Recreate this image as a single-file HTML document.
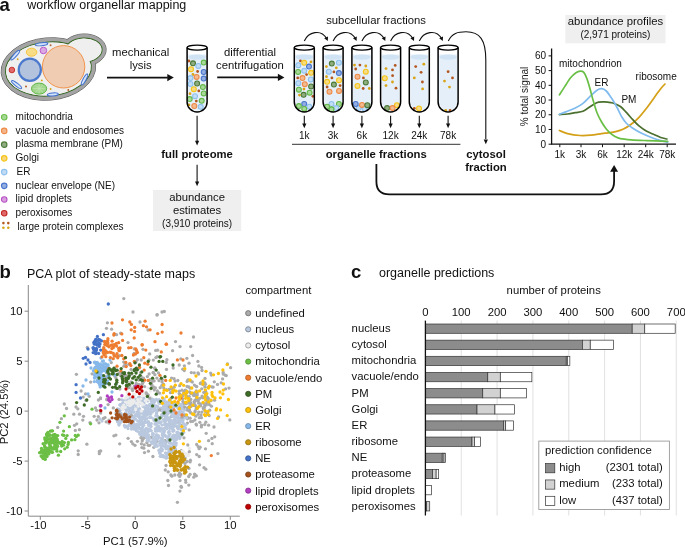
<!DOCTYPE html>
<html><head><meta charset="utf-8"><title>Organellar mapping workflow</title>
<style>html,body{margin:0;padding:0;background:#fff;} body{width:685px;height:548px;overflow:hidden;} svg{display:block;}</style>
</head><body>
<svg width="685" height="548" viewBox="0 0 685 548" font-family='"Liberation Sans", Arial, Helvetica, sans-serif'>
<rect width="685" height="548" fill="#fff"/>
<text x="-0.5" y="10.5" font-size="18.5" font-weight="bold" fill="#111">a</text>
<text x="27.2" y="9.3" font-size="12.5" fill="#111">workflow organellar mapping</text>
<g><ellipse transform="translate(48.4,69.0) rotate(-5)" cx="0" cy="0" rx="47.4" ry="31.2" fill="#a4a4a4" stroke="#5a5a5a" stroke-width="0.8"/>
<ellipse transform="translate(83.6,50.2) rotate(-3)" rx="22.599999999999998" ry="16.3" fill="#a4a4a4" stroke="#5a5a5a" stroke-width="0.8"/>
<ellipse transform="translate(48.4,69.0) rotate(-5)" cx="0" cy="0" rx="47.0" ry="30.8" fill="#a4a4a4"/>
<ellipse transform="translate(83.6,50.2) rotate(-3)" rx="22.2" ry="15.899999999999999" fill="#a4a4a4"/>
<ellipse transform="translate(48.4,69.0) rotate(-5)" cx="0" cy="0" rx="43.0" ry="26.9" fill="#efefef" stroke="#3a6a27" stroke-width="1.15"/>
<ellipse transform="translate(83.6,50.2) rotate(-3)" rx="18.4" ry="12.1" fill="#efefef" stroke="#3a6a27" stroke-width="1.15"/>
<ellipse transform="translate(48.4,69.0) rotate(-5)" cx="0" cy="0" rx="42.5" ry="26.4" fill="#efefef"/>
<ellipse transform="translate(83.6,50.2) rotate(-3)" rx="17.95" ry="11.65" fill="#efefef"/>
</g>
<ellipse transform="translate(41.6,44.2) rotate(-6)" rx="6.2" ry="1.5" fill="#d3e3fa" stroke="#4270d0" stroke-width="1.0"/>
<ellipse transform="translate(15.2,55.2) rotate(-48)" rx="6.3" ry="1.5" fill="#d3e3fa" stroke="#4270d0" stroke-width="1.0"/>
<ellipse transform="translate(16.6,84.6) rotate(38)" rx="6.3" ry="1.5" fill="#d3e3fa" stroke="#4270d0" stroke-width="1.0"/>
<ellipse transform="translate(52.8,94.4) rotate(-5)" rx="5.5" ry="1.5" fill="#d3e3fa" stroke="#4270d0" stroke-width="1.0"/>
<ellipse transform="translate(84.5,79.5) rotate(-62)" rx="6.2" ry="1.5" fill="#d3e3fa" stroke="#4270d0" stroke-width="1.0"/>
<circle cx="63.6" cy="66.8" r="21.2" fill="#f0cdb2" stroke="#f08a3c" stroke-width="0.9"/>
<circle cx="29.8" cy="69.8" r="11.1" fill="#b3c3dd" stroke="#4a78cd" stroke-width="2.2"/>
<ellipse cx="31.6" cy="52.2" rx="5.3" ry="4.0" fill="#f8dc86" stroke="#f5c230" stroke-width="0.9"/>
<circle cx="43.4" cy="50.5" r="3.3" fill="#dba7e2" stroke="#b64fc5" stroke-width="0.9"/>
<circle cx="11.9" cy="70" r="2.8" fill="#e26a6a" stroke="#c42525" stroke-width="0.9"/>
<ellipse cx="39.1" cy="88.6" rx="7.6" ry="5.5" fill="#a2d68e" stroke="#5db542" stroke-width="1.0"/>
<path d="M33.5,88.6 L44.7,88.6 M35.5,85.2 L42.7,92 M42.7,85.2 L35.5,92 M39.1,83.8 L39.1,93.4" stroke="#c4e7b6" stroke-width="0.7" fill="none"/>
<circle cx="50.6" cy="45.3" r="0.95" fill="#b4642a"/>
<circle cx="17.7" cy="59.2" r="0.95" fill="#d9a316"/>
<circle cx="41.8" cy="80.4" r="0.95" fill="#d9a316"/>
<circle cx="26" cy="86.5" r="0.95" fill="#b4571f"/>
<circle cx="50.6" cy="89" r="0.95" fill="#d9a316"/>
<circle cx="68.3" cy="90" r="0.95" fill="#b4571f"/>
<circle cx="4.2" cy="117.20" r="2.75" fill="#a5d894" stroke="#6cc04a" stroke-width="1.15"/>
<text x="15.6" y="120.00" font-size="10" fill="#111">mitochondria</text>
<circle cx="4.2" cy="130.92" r="2.75" fill="#f3b68c" stroke="#ee8a45" stroke-width="1.15"/>
<text x="15.6" y="133.72" font-size="10" fill="#111">vacuole and endosomes</text>
<circle cx="4.2" cy="144.64" r="2.75" fill="#8fab82" stroke="#4e7c3a" stroke-width="1.15"/>
<text x="15.6" y="147.44" font-size="10" fill="#111">plasma membrane (PM)</text>
<circle cx="4.2" cy="158.36" r="2.75" fill="#f7d77a" stroke="#f6c416" stroke-width="1.15"/>
<text x="15.6" y="161.16" font-size="10" fill="#111">Golgi</text>
<circle cx="4.2" cy="172.08" r="2.75" fill="#c0dcf5" stroke="#8ec1ee" stroke-width="1.15"/>
<text x="16.6" y="174.88" font-size="10" fill="#111">ER</text>
<circle cx="4.2" cy="185.80" r="2.75" fill="#93aee2" stroke="#4a76cc" stroke-width="1.15"/>
<text x="15.6" y="188.60" font-size="10" fill="#111">nuclear envelope (NE)</text>
<circle cx="4.2" cy="199.52" r="2.75" fill="#d9a0e0" stroke="#b64fc5" stroke-width="1.15"/>
<text x="15.6" y="202.32" font-size="10" fill="#111">lipid droplets</text>
<circle cx="4.2" cy="213.24" r="2.75" fill="#e06a6a" stroke="#c42525" stroke-width="1.15"/>
<text x="15.6" y="216.04" font-size="10" fill="#111">peroxisomes</text>
<circle cx="3.4" cy="223.10" r="1.3" fill="#b4571f"/>
<circle cx="8.3" cy="223.10" r="1.3" fill="#b4571f"/>
<circle cx="3.4" cy="227.70" r="1.3" fill="#d9a316"/>
<circle cx="8.3" cy="227.70" r="1.3" fill="#d9a316"/>
<text x="17.4" y="229.76" font-size="10" fill="#111">large protein complexes</text>
<text x="140.7" y="56.0" font-size="11.3" text-anchor="middle" fill="#111">mechanical</text>
<text x="140.7" y="69.2" font-size="11.3" text-anchor="middle" fill="#111">lysis</text>
<line x1="107" y1="77.6" x2="167.8" y2="77.6" stroke="#111" stroke-width="1.6"/><path d="M173.8,77.6 L167.3,74.0 L167.3,81.19999999999999 Z" fill="#111"/>
<path d="M188.30,54.6 L205.90,54.6 L205.90,102.00 A8.80,8.80 0 0 1 188.30,102.00 Z" fill="#e4eff9"/>
<ellipse cx="197.1" cy="57.1" rx="8.80" ry="2.6" fill="#cfe3f4"/>
<circle cx="188.9" cy="61.0" r="1.4" fill="#b4571f"/>
<circle cx="193.0" cy="63.3" r="2.45" fill="#90ad82" stroke="#4b7a36" stroke-width="1.1"/>
<circle cx="203.7" cy="62.6" r="2.45" fill="#a9d99a" stroke="#62b847" stroke-width="1.1"/>
<circle cx="198.3" cy="65.9" r="2.45" fill="#c2ddf6" stroke="#8ec1ee" stroke-width="1.1"/>
<circle cx="191.0" cy="69.2" r="2.45" fill="#f6dc86" stroke="#f6c416" stroke-width="1.1"/>
<circle cx="197.6" cy="71.5" r="1.4" fill="#b4571f"/>
<circle cx="203.7" cy="72.0" r="2.45" fill="#93aee2" stroke="#4a76cc" stroke-width="1.1"/>
<circle cx="193.0" cy="74.5" r="1.4" fill="#d9a316"/>
<circle cx="190.5" cy="78.1" r="2.45" fill="#c2ddf6" stroke="#8ec1ee" stroke-width="1.1"/>
<circle cx="196.6" cy="76.9" r="2.45" fill="#f3b990" stroke="#ee8a45" stroke-width="1.1"/>
<circle cx="203.7" cy="78.6" r="2.45" fill="#93aee2" stroke="#4a76cc" stroke-width="1.1"/>
<circle cx="190.5" cy="84.0" r="2.45" fill="#c2ddf6" stroke="#8ec1ee" stroke-width="1.1"/>
<circle cx="197.1" cy="83.5" r="2.45" fill="#90ad82" stroke="#4b7a36" stroke-width="1.1"/>
<circle cx="202.9" cy="87.1" r="2.45" fill="#a9d99a" stroke="#62b847" stroke-width="1.1"/>
<circle cx="193.8" cy="89.2" r="2.45" fill="#f6dc86" stroke="#f6c416" stroke-width="1.1"/>
<circle cx="198.8" cy="90.9" r="1.4" fill="#b4571f"/>
<circle cx="203.7" cy="93.4" r="2.45" fill="#a9d99a" stroke="#62b847" stroke-width="1.1"/>
<circle cx="190.0" cy="93.7" r="1.4" fill="#d9a316"/>
<circle cx="195.0" cy="96.2" r="2.45" fill="#c2ddf6" stroke="#8ec1ee" stroke-width="1.1"/>
<circle cx="189.7" cy="99.1" r="2.45" fill="#a9d99a" stroke="#62b847" stroke-width="1.1"/>
<circle cx="196.3" cy="101.1" r="1.4" fill="#b4571f"/>
<circle cx="201.7" cy="100.8" r="2.45" fill="#a9d99a" stroke="#62b847" stroke-width="1.1"/>
<circle cx="188.9" cy="104.9" r="1.4" fill="#d9a316"/>
<circle cx="194.3" cy="106.0" r="2.45" fill="#f3b990" stroke="#ee8a45" stroke-width="1.1"/>
<circle cx="200.7" cy="106.8" r="2.45" fill="#c2ddf6" stroke="#8ec1ee" stroke-width="1.1"/>
<path d="M187.10,47.6 L187.10,102.00 A10.0,10.0 0 0 0 207.10,102.00 L207.10,47.6" fill="none" stroke="#000" stroke-width="1.5"/>
<ellipse cx="197.1" cy="47.6" rx="10.0" ry="2.5" fill="#fff" stroke="#000" stroke-width="1.35"/>
<text x="250.0" y="55.8" font-size="11.3" text-anchor="middle" fill="#111">differential</text>
<text x="250.0" y="68.9" font-size="11.3" text-anchor="middle" fill="#111">centrifugation</text>
<line x1="217.2" y1="77.4" x2="278.4" y2="77.4" stroke="#111" stroke-width="1.6"/><path d="M284.4,77.4 L277.9,73.80000000000001 L277.9,81.0 Z" fill="#111"/>
<line x1="197.1" y1="115.7" x2="197.1" y2="141.3" stroke="#111" stroke-width="1.1"/><path d="M197.1,145.4 L195.0,140.8 L199.2,140.8 Z" fill="#111"/>
<text x="197.1" y="158.4" font-size="11.3" font-weight="bold" text-anchor="middle" fill="#111">full proteome</text>
<line x1="197.1" y1="164.8" x2="197.1" y2="182.1" stroke="#111" stroke-width="1.1"/><path d="M197.1,186.2 L195.0,181.6 L199.2,181.6 Z" fill="#111"/>
<rect x="153" y="190" width="88.2" height="41" fill="#efefef"/>
<text x="197.1" y="200.6" font-size="11.3" text-anchor="middle" fill="#111">abundance</text>
<text x="197.1" y="214.3" font-size="11.3" text-anchor="middle" fill="#111">estimates</text>
<text x="197.1" y="226.8" font-size="10" text-anchor="middle" fill="#111">(3,910 proteins)</text>
<text x="376.1" y="24.4" font-size="11.3" text-anchor="middle" fill="#111">subcellular fractions</text>
<path d="M295.50,54.6 L313.10,54.6 L313.10,102.00 A8.80,8.80 0 0 1 295.50,102.00 Z" fill="#e4eff9"/>
<ellipse cx="304.3" cy="57.1" rx="8.80" ry="2.6" fill="#cfe3f4"/>
<circle cx="300.4" cy="60.9" r="1.4" fill="#b4571f"/>
<circle cx="304.2" cy="62.8" r="2.45" fill="#f6dc86" stroke="#f6c416" stroke-width="1.1"/>
<circle cx="311.0" cy="61.9" r="1.4" fill="#d9a316"/>
<circle cx="298.3" cy="65.2" r="2.45" fill="#c2ddf6" stroke="#8ec1ee" stroke-width="1.1"/>
<circle cx="309.0" cy="66.6" r="2.45" fill="#93aee2" stroke="#4a76cc" stroke-width="1.1"/>
<circle cx="298.1" cy="71.9" r="2.45" fill="#a9d99a" stroke="#62b847" stroke-width="1.1"/>
<circle cx="304.2" cy="70.8" r="2.45" fill="#c2ddf6" stroke="#8ec1ee" stroke-width="1.1"/>
<circle cx="311.1" cy="72.8" r="2.45" fill="#f6dc86" stroke="#f6c416" stroke-width="1.1"/>
<circle cx="306.6" cy="74.6" r="1.4" fill="#b4571f"/>
<circle cx="297.7" cy="77.9" r="1.4" fill="#b4571f"/>
<circle cx="302.5" cy="78.1" r="2.45" fill="#f3b990" stroke="#ee8a45" stroke-width="1.1"/>
<circle cx="310.8" cy="79.4" r="2.45" fill="#c2ddf6" stroke="#8ec1ee" stroke-width="1.1"/>
<circle cx="298.3" cy="83.2" r="2.45" fill="#c2ddf6" stroke="#8ec1ee" stroke-width="1.1"/>
<circle cx="304.8" cy="84.2" r="2.45" fill="#f3b990" stroke="#ee8a45" stroke-width="1.1"/>
<circle cx="311.1" cy="86.4" r="2.45" fill="#90ad82" stroke="#4b7a36" stroke-width="1.1"/>
<circle cx="298.9" cy="89.7" r="2.45" fill="#a9d99a" stroke="#62b847" stroke-width="1.1"/>
<circle cx="303.9" cy="89.1" r="1.4" fill="#d9a316"/>
<circle cx="309.6" cy="92.7" r="2.45" fill="#a9d99a" stroke="#62b847" stroke-width="1.1"/>
<circle cx="303.6" cy="94.8" r="2.45" fill="#90ad82" stroke="#4b7a36" stroke-width="1.1"/>
<circle cx="299.5" cy="95.1" r="1.4" fill="#d9a316"/>
<circle cx="312.9" cy="96.3" r="1.4" fill="#b4571f"/>
<circle cx="304.2" cy="104.0" r="2.45" fill="#93aee2" stroke="#4a76cc" stroke-width="1.1"/>
<circle cx="298.9" cy="106.1" r="2.45" fill="#a9d99a" stroke="#62b847" stroke-width="1.1"/>
<circle cx="309.3" cy="106.7" r="2.45" fill="#c2ddf6" stroke="#8ec1ee" stroke-width="1.1"/>
<circle cx="304.2" cy="108.9" r="2.45" fill="#a9d99a" stroke="#62b847" stroke-width="1.1"/>
<path d="M294.30,47.6 L294.30,102.00 A10.0,10.0 0 0 0 314.30,102.00 L314.30,47.6" fill="none" stroke="#000" stroke-width="1.5"/>
<ellipse cx="304.3" cy="47.6" rx="10.0" ry="2.5" fill="#fff" stroke="#000" stroke-width="1.35"/>
<path d="M324.30,54.6 L341.90,54.6 L341.90,102.00 A8.80,8.80 0 0 1 324.30,102.00 Z" fill="#e4eff9"/>
<ellipse cx="333.1" cy="57.1" rx="8.80" ry="2.6" fill="#cfe3f4"/>
<circle cx="331.8" cy="63.6" r="2.45" fill="#90ad82" stroke="#4b7a36" stroke-width="1.1"/>
<circle cx="338.9" cy="62.7" r="2.45" fill="#c2ddf6" stroke="#8ec1ee" stroke-width="1.1"/>
<circle cx="326.4" cy="66.6" r="1.4" fill="#d9a316"/>
<circle cx="336.3" cy="67.8" r="1.4" fill="#d9a316"/>
<circle cx="328.8" cy="71.7" r="2.45" fill="#c2ddf6" stroke="#8ec1ee" stroke-width="1.1"/>
<circle cx="333.9" cy="71.9" r="1.4" fill="#b4571f"/>
<circle cx="338.9" cy="73.1" r="2.45" fill="#93aee2" stroke="#4a76cc" stroke-width="1.1"/>
<circle cx="326.5" cy="76.7" r="1.4" fill="#d9a316"/>
<circle cx="331.9" cy="77.9" r="1.4" fill="#b4571f"/>
<circle cx="327.1" cy="81.8" r="2.45" fill="#f6dc86" stroke="#f6c416" stroke-width="1.1"/>
<circle cx="339.0" cy="80.2" r="2.45" fill="#f6dc86" stroke="#f6c416" stroke-width="1.1"/>
<circle cx="333.9" cy="84.6" r="2.45" fill="#90ad82" stroke="#4b7a36" stroke-width="1.1"/>
<circle cx="327.1" cy="87.0" r="1.4" fill="#b4571f"/>
<circle cx="340.1" cy="85.6" r="1.4" fill="#b4571f"/>
<circle cx="329.5" cy="91.7" r="2.45" fill="#f3b990" stroke="#ee8a45" stroke-width="1.1"/>
<circle cx="339.0" cy="90.9" r="2.45" fill="#f3b990" stroke="#ee8a45" stroke-width="1.1"/>
<circle cx="331.5" cy="104.0" r="2.45" fill="#c2ddf6" stroke="#8ec1ee" stroke-width="1.1"/>
<circle cx="338.9" cy="104.0" r="2.45" fill="#a9d99a" stroke="#62b847" stroke-width="1.1"/>
<circle cx="327.1" cy="106.7" r="2.45" fill="#a9d99a" stroke="#62b847" stroke-width="1.1"/>
<circle cx="336.3" cy="108.1" r="2.45" fill="#c2ddf6" stroke="#8ec1ee" stroke-width="1.1"/>
<circle cx="331.5" cy="109.3" r="2.45" fill="#a9d99a" stroke="#62b847" stroke-width="1.1"/>
<path d="M323.10,47.6 L323.10,102.00 A10.0,10.0 0 0 0 343.10,102.00 L343.10,47.6" fill="none" stroke="#000" stroke-width="1.5"/>
<ellipse cx="333.1" cy="47.6" rx="10.0" ry="2.5" fill="#fff" stroke="#000" stroke-width="1.35"/>
<path d="M353.10,54.6 L370.70,54.6 L370.70,102.00 A8.80,8.80 0 0 1 353.10,102.00 Z" fill="#e4eff9"/>
<ellipse cx="361.9" cy="57.1" rx="8.80" ry="2.6" fill="#cfe3f4"/>
<circle cx="354.5" cy="65.1" r="1.4" fill="#d9a316"/>
<circle cx="359.9" cy="65.1" r="1.4" fill="#b4571f"/>
<circle cx="365.8" cy="66.0" r="1.4" fill="#d9a316"/>
<circle cx="355.7" cy="69.0" r="1.4" fill="#b4571f"/>
<circle cx="365.8" cy="71.7" r="2.45" fill="#f6dc86" stroke="#f6c416" stroke-width="1.1"/>
<circle cx="357.5" cy="76.7" r="2.45" fill="#f3b990" stroke="#ee8a45" stroke-width="1.1"/>
<circle cx="363.4" cy="77.9" r="1.4" fill="#b4571f"/>
<circle cx="365.8" cy="82.4" r="2.45" fill="#90ad82" stroke="#4b7a36" stroke-width="1.1"/>
<circle cx="357.5" cy="85.9" r="2.45" fill="#f6dc86" stroke="#f6c416" stroke-width="1.1"/>
<circle cx="363.2" cy="88.5" r="1.4" fill="#b4571f"/>
<circle cx="369.3" cy="88.5" r="1.4" fill="#d9a316"/>
<circle cx="358.7" cy="108.1" r="2.45" fill="#c2ddf6" stroke="#8ec1ee" stroke-width="1.1"/>
<circle cx="364.6" cy="108.7" r="2.45" fill="#c2ddf6" stroke="#8ec1ee" stroke-width="1.1"/>
<circle cx="355.7" cy="104.0" r="2.45" fill="#93aee2" stroke="#4a76cc" stroke-width="1.1"/>
<circle cx="362.0" cy="104.9" r="2.45" fill="#f3b990" stroke="#ee8a45" stroke-width="1.1"/>
<circle cx="367.3" cy="105.2" r="2.45" fill="#90ad82" stroke="#4b7a36" stroke-width="1.1"/>
<path d="M351.90,47.6 L351.90,102.00 A10.0,10.0 0 0 0 371.90,102.00 L371.90,47.6" fill="none" stroke="#000" stroke-width="1.5"/>
<ellipse cx="361.9" cy="47.6" rx="10.0" ry="2.5" fill="#fff" stroke="#000" stroke-width="1.35"/>
<path d="M381.80,54.6 L399.40,54.6 L399.40,102.00 A8.80,8.80 0 0 1 381.80,102.00 Z" fill="#e4eff9"/>
<ellipse cx="390.6" cy="57.1" rx="8.80" ry="2.6" fill="#cfe3f4"/>
<circle cx="395.2" cy="65.4" r="1.4" fill="#b4571f"/>
<circle cx="386.0" cy="68.6" r="1.4" fill="#d9a316"/>
<circle cx="392.5" cy="69.9" r="1.4" fill="#b4571f"/>
<circle cx="384.8" cy="78.2" r="2.45" fill="#f6dc86" stroke="#f6c416" stroke-width="1.1"/>
<circle cx="392.6" cy="75.7" r="1.4" fill="#b4571f"/>
<circle cx="392.5" cy="82.0" r="1.4" fill="#d9a316"/>
<circle cx="386.0" cy="85.6" r="1.4" fill="#d9a316"/>
<circle cx="396.0" cy="88.2" r="1.4" fill="#b4571f"/>
<circle cx="396.9" cy="105.2" r="2.45" fill="#f6dc86" stroke="#f6c416" stroke-width="1.1"/>
<circle cx="387.1" cy="108.1" r="2.45" fill="#90ad82" stroke="#4b7a36" stroke-width="1.1"/>
<circle cx="392.5" cy="108.1" r="2.45" fill="#f3b990" stroke="#ee8a45" stroke-width="1.1"/>
<path d="M380.60,47.6 L380.60,102.00 A10.0,10.0 0 0 0 400.60,102.00 L400.60,47.6" fill="none" stroke="#000" stroke-width="1.5"/>
<ellipse cx="390.6" cy="47.6" rx="10.0" ry="2.5" fill="#fff" stroke="#000" stroke-width="1.35"/>
<path d="M410.50,54.6 L428.10,54.6 L428.10,102.00 A8.80,8.80 0 0 1 410.50,102.00 Z" fill="#e4eff9"/>
<ellipse cx="419.3" cy="57.1" rx="8.80" ry="2.6" fill="#cfe3f4"/>
<circle cx="415.7" cy="66.6" r="1.4" fill="#b4571f"/>
<circle cx="423.8" cy="64.2" r="1.4" fill="#d9a316"/>
<circle cx="421.1" cy="72.3" r="1.4" fill="#b4571f"/>
<circle cx="414.3" cy="77.9" r="1.4" fill="#d9a316"/>
<circle cx="422.4" cy="82.0" r="1.4" fill="#b4571f"/>
<circle cx="422.6" cy="88.9" r="1.4" fill="#d9a316"/>
<circle cx="414.3" cy="108.4" r="1.4" fill="#b4571f"/>
<circle cx="419.0" cy="108.4" r="2.45" fill="#f6dc86" stroke="#f6c416" stroke-width="1.1"/>
<path d="M409.30,47.6 L409.30,102.00 A10.0,10.0 0 0 0 429.30,102.00 L429.30,47.6" fill="none" stroke="#000" stroke-width="1.5"/>
<ellipse cx="419.3" cy="47.6" rx="10.0" ry="2.5" fill="#fff" stroke="#000" stroke-width="1.35"/>
<path d="M439.30,54.6 L456.90,54.6 L456.90,102.00 A8.80,8.80 0 0 1 439.30,102.00 Z" fill="#e4eff9"/>
<ellipse cx="448.1" cy="57.1" rx="8.80" ry="2.6" fill="#cfe3f4"/>
<circle cx="448.1" cy="71.7" r="1.4" fill="#b4571f"/>
<circle cx="452.5" cy="77.9" r="1.4" fill="#b4571f"/>
<circle cx="444.5" cy="81.1" r="1.4" fill="#d9a316"/>
<circle cx="449.5" cy="87.1" r="1.4" fill="#d9a316"/>
<circle cx="445.7" cy="110.3" r="1.4" fill="#d9a316"/>
<circle cx="450.1" cy="110.5" r="1.4" fill="#b4571f"/>
<path d="M438.10,47.6 L438.10,102.00 A10.0,10.0 0 0 0 458.10,102.00 L458.10,47.6" fill="none" stroke="#000" stroke-width="1.5"/>
<ellipse cx="448.1" cy="47.6" rx="10.0" ry="2.5" fill="#fff" stroke="#000" stroke-width="1.35"/>
<line x1="304.3" y1="115.8" x2="304.3" y2="124.1" stroke="#111" stroke-width="1.1"/><path d="M304.3,128.2 L302.2,123.6 L306.40000000000003,123.6 Z" fill="#111"/>
<text x="304.3" y="138.6" font-size="10" text-anchor="middle" fill="#111">1k</text>
<line x1="333.1" y1="115.8" x2="333.1" y2="124.1" stroke="#111" stroke-width="1.1"/><path d="M333.1,128.2 L331.0,123.6 L335.20000000000005,123.6 Z" fill="#111"/>
<text x="333.1" y="138.6" font-size="10" text-anchor="middle" fill="#111">3k</text>
<line x1="361.9" y1="115.8" x2="361.9" y2="124.1" stroke="#111" stroke-width="1.1"/><path d="M361.9,128.2 L359.79999999999995,123.6 L364.0,123.6 Z" fill="#111"/>
<text x="361.9" y="138.6" font-size="10" text-anchor="middle" fill="#111">6k</text>
<line x1="390.6" y1="115.8" x2="390.6" y2="124.1" stroke="#111" stroke-width="1.1"/><path d="M390.6,128.2 L388.5,123.6 L392.70000000000005,123.6 Z" fill="#111"/>
<text x="390.6" y="138.6" font-size="10" text-anchor="middle" fill="#111">12k</text>
<line x1="419.3" y1="115.8" x2="419.3" y2="124.1" stroke="#111" stroke-width="1.1"/><path d="M419.3,128.2 L417.2,123.6 L421.40000000000003,123.6 Z" fill="#111"/>
<text x="419.3" y="138.6" font-size="10" text-anchor="middle" fill="#111">24k</text>
<line x1="448.1" y1="115.8" x2="448.1" y2="124.1" stroke="#111" stroke-width="1.1"/><path d="M448.1,128.2 L446.0,123.6 L450.20000000000005,123.6 Z" fill="#111"/>
<text x="448.1" y="138.6" font-size="10" text-anchor="middle" fill="#111">78k</text>
<path d="M304.3,41 C308.3,32 320.8,28.5 326.6,38.6" fill="none" stroke="#111" stroke-width="1.1"/>
<path d="M327.8,41 L324.2,38.2 L328.0,36.4 Z" fill="#111"/>
<path d="M333.1,41 C337.1,32 349.59999999999997,28.5 355.4,38.6" fill="none" stroke="#111" stroke-width="1.1"/>
<path d="M356.59999999999997,41 L352.99999999999994,38.2 L356.79999999999995,36.4 Z" fill="#111"/>
<path d="M361.9,41 C365.9,32 378.3,28.5 384.1,38.6" fill="none" stroke="#111" stroke-width="1.1"/>
<path d="M385.3,41 L381.7,38.2 L385.5,36.4 Z" fill="#111"/>
<path d="M390.6,41 C394.6,32 407.0,28.5 412.8,38.6" fill="none" stroke="#111" stroke-width="1.1"/>
<path d="M414.0,41 L410.4,38.2 L414.2,36.4 Z" fill="#111"/>
<path d="M419.3,41 C423.3,32 435.8,28.5 441.6,38.6" fill="none" stroke="#111" stroke-width="1.1"/>
<path d="M442.8,41 L439.2,38.2 L443.0,36.4 Z" fill="#111"/>
<path d="M448.3,41 C452,33 458,31.8 466,31.8 C480,31.8 485.8,40 485.8,60 L485.8,139" fill="none" stroke="#111" stroke-width="1.1"/>
<path d="M485.8,144.3 L483.7,139.5 L487.9,139.5 Z" fill="#111"/>
<line x1="292" y1="144.3" x2="460.4" y2="144.3" stroke="#333" stroke-width="1"/>
<text x="376.2" y="157.8" font-size="11.3" font-weight="bold" text-anchor="middle" fill="#111">organelle fractions</text>
<text x="486" y="158.0" font-size="11.3" font-weight="bold" text-anchor="middle" fill="#111">cytosol</text>
<text x="486" y="171.2" font-size="11.3" font-weight="bold" text-anchor="middle" fill="#111">fraction</text>
<path d="M376.4,164 L376.4,181.5 Q376.4,194.4 389.3,194.4 L601,194.4 Q614.1,194.4 614.1,181.3 L614.1,171" fill="none" stroke="#111" stroke-width="1.8"/>
<path d="M614.1,165 L610.1,171.8 L618.1,171.8 Z" fill="#111"/>
<rect x="565.3" y="14.9" width="100.2" height="28.4" fill="#efefef"/>
<text x="615.4" y="25.4" font-size="11.3" text-anchor="middle" fill="#111">abundance profiles</text>
<text x="615.4" y="37.7" font-size="10" text-anchor="middle" fill="#111">(2,971 proteins)</text>
<line x1="551.6" y1="48.5" x2="551.6" y2="144.2" stroke="#111" stroke-width="1.3"/>
<line x1="551.0" y1="144.2" x2="676" y2="144.2" stroke="#111" stroke-width="1.3"/>
<line x1="548.6" y1="144.20" x2="551.6" y2="144.20" stroke="#111" stroke-width="1"/>
<text x="546.0" y="147.80" font-size="10" text-anchor="end" fill="#111">0</text>
<line x1="548.6" y1="129.48" x2="551.6" y2="129.48" stroke="#111" stroke-width="1"/>
<text x="546.0" y="133.08" font-size="10" text-anchor="end" fill="#111">10</text>
<line x1="548.6" y1="114.76" x2="551.6" y2="114.76" stroke="#111" stroke-width="1"/>
<text x="546.0" y="118.36" font-size="10" text-anchor="end" fill="#111">20</text>
<line x1="548.6" y1="100.04" x2="551.6" y2="100.04" stroke="#111" stroke-width="1"/>
<text x="546.0" y="103.64" font-size="10" text-anchor="end" fill="#111">30</text>
<line x1="548.6" y1="85.32" x2="551.6" y2="85.32" stroke="#111" stroke-width="1"/>
<text x="546.0" y="88.92" font-size="10" text-anchor="end" fill="#111">40</text>
<line x1="548.6" y1="70.60" x2="551.6" y2="70.60" stroke="#111" stroke-width="1"/>
<text x="546.0" y="74.20" font-size="10" text-anchor="end" fill="#111">50</text>
<line x1="548.6" y1="55.88" x2="551.6" y2="55.88" stroke="#111" stroke-width="1"/>
<text x="546.0" y="59.48" font-size="10" text-anchor="end" fill="#111">60</text>
<line x1="559.8" y1="144.2" x2="559.8" y2="147.2" stroke="#111" stroke-width="1"/>
<text x="559.8" y="158.3" font-size="10" text-anchor="middle" fill="#111">1k</text>
<line x1="581.0" y1="144.2" x2="581.0" y2="147.2" stroke="#111" stroke-width="1"/>
<text x="581.0" y="158.3" font-size="10" text-anchor="middle" fill="#111">3k</text>
<line x1="602.5" y1="144.2" x2="602.5" y2="147.2" stroke="#111" stroke-width="1"/>
<text x="602.5" y="158.3" font-size="10" text-anchor="middle" fill="#111">6k</text>
<line x1="624.2" y1="144.2" x2="624.2" y2="147.2" stroke="#111" stroke-width="1"/>
<text x="624.2" y="158.3" font-size="10" text-anchor="middle" fill="#111">12k</text>
<line x1="645.7" y1="144.2" x2="645.7" y2="147.2" stroke="#111" stroke-width="1"/>
<text x="645.7" y="158.3" font-size="10" text-anchor="middle" fill="#111">24k</text>
<line x1="667.2" y1="144.2" x2="667.2" y2="147.2" stroke="#111" stroke-width="1"/>
<text x="667.2" y="158.3" font-size="10" text-anchor="middle" fill="#111">78k</text>
<text transform="translate(528.3,96.5) rotate(-90)" font-size="10" text-anchor="middle" fill="#1a1a1a">% total signal</text>
<path d="M559.40,130.50 C560.75,131.02 564.08,132.77 567.50,133.60 C570.92,134.43 576.02,135.23 579.90,135.50 C583.78,135.77 587.18,135.52 590.80,135.20 C594.42,134.88 598.73,134.00 601.60,133.60 C604.47,133.20 605.65,133.13 608.00,132.80 C610.35,132.47 613.12,132.23 615.70,131.60 C618.28,130.97 620.92,130.22 623.50,129.00 C626.08,127.78 628.62,126.25 631.20,124.30 C633.78,122.35 636.42,120.02 639.00,117.30 C641.58,114.58 644.12,111.35 646.70,108.00 C649.28,104.65 652.17,100.42 654.50,97.20 C656.83,93.98 658.95,90.90 660.70,88.70 C662.45,86.50 664.28,84.78 665.00,84.00" fill="none" stroke="#d4a017" stroke-width="1.7" stroke-linecap="round" stroke-linejoin="round"/>
<path d="M559.40,114.60 C560.75,114.50 564.85,114.32 567.50,114.00 C570.15,113.68 572.72,113.17 575.30,112.70 C577.88,112.23 580.68,112.10 583.00,111.20 C585.32,110.30 587.38,108.47 589.20,107.30 C591.02,106.13 592.35,105.05 593.90,104.20 C595.45,103.35 596.70,102.58 598.50,102.20 C600.30,101.82 602.63,101.83 604.70,101.90 C606.77,101.97 609.32,102.35 610.90,102.60 C612.48,102.85 612.62,102.75 614.20,103.40 C615.78,104.05 618.33,104.95 620.40,106.50 C622.47,108.05 624.53,110.50 626.60,112.70 C628.67,114.90 630.73,117.50 632.80,119.70 C634.87,121.90 636.68,123.97 639.00,125.90 C641.32,127.83 644.12,129.83 646.70,131.30 C649.28,132.77 652.17,133.67 654.50,134.70 C656.83,135.73 658.63,136.78 660.70,137.50 C662.77,138.22 665.87,138.75 666.90,139.00" fill="none" stroke="#4a6f2e" stroke-width="1.7" stroke-linecap="round" stroke-linejoin="round"/>
<path d="M559.40,114.30 C560.75,113.78 564.85,112.23 567.50,111.20 C570.15,110.17 572.72,109.40 575.30,108.10 C577.88,106.80 580.42,105.47 583.00,103.40 C585.58,101.33 588.47,97.90 590.80,95.70 C593.13,93.50 595.20,91.37 597.00,90.20 C598.80,89.03 600.05,88.57 601.60,88.70 C603.15,88.83 604.75,89.58 606.30,91.00 C607.85,92.42 609.62,95.37 610.90,97.20 C612.18,99.03 612.93,100.20 614.00,102.00 C615.07,103.80 615.97,105.45 617.30,108.00 C618.63,110.55 620.45,114.72 622.00,117.30 C623.55,119.88 624.80,121.68 626.60,123.50 C628.40,125.32 630.22,126.52 632.80,128.20 C635.38,129.88 639.00,132.05 642.10,133.60 C645.20,135.15 648.30,136.33 651.40,137.50 C654.50,138.67 657.98,139.83 660.70,140.60 C663.42,141.37 666.53,141.85 667.70,142.10" fill="none" stroke="#7fbbee" stroke-width="1.7" stroke-linecap="round" stroke-linejoin="round"/>
<path d="M559.40,94.90 C560.23,93.60 562.53,89.95 564.40,87.10 C566.27,84.25 568.67,80.20 570.60,77.80 C572.53,75.40 574.37,73.80 576.00,72.70 C577.63,71.60 579.10,71.25 580.40,71.20 C581.70,71.15 582.72,71.17 583.80,72.40 C584.88,73.63 585.87,75.88 586.90,78.60 C587.93,81.32 588.97,85.08 590.00,88.70 C591.03,92.32 591.93,96.30 593.10,100.30 C594.27,104.30 595.58,109.08 597.00,112.70 C598.42,116.32 600.05,119.28 601.60,122.00 C603.15,124.72 604.75,127.07 606.30,129.00 C607.85,130.93 609.45,132.35 610.90,133.60 C612.35,134.85 613.42,135.67 615.00,136.50 C616.58,137.33 617.70,138.05 620.40,138.60 C623.10,139.15 626.82,139.47 631.20,139.80 C635.58,140.13 640.62,140.33 646.70,140.60 C652.78,140.87 664.20,141.27 667.70,141.40" fill="none" stroke="#69bf45" stroke-width="1.7" stroke-linecap="round" stroke-linejoin="round"/>
<text x="559.0" y="67.2" font-size="10" fill="#111">mitochondrion</text>
<text x="594.6" y="86.4" font-size="10" fill="#111">ER</text>
<text x="621.4" y="103.4" font-size="10" fill="#111">PM</text>
<text x="635.6" y="80.4" font-size="10" fill="#111">ribosome</text>
<text x="-0.4" y="278.2" font-size="18.5" font-weight="bold" fill="#111">b</text>
<text x="27.0" y="277.5" font-size="12.5" fill="#111">PCA plot of steady-state maps</text>
<g fill="#ababab"><circle cx="179.7" cy="385.7" r="1.65"/><circle cx="175.0" cy="381.1" r="1.65"/><circle cx="199.1" cy="448.7" r="1.65"/><circle cx="180.1" cy="421.2" r="1.65"/><circle cx="196.3" cy="386.3" r="1.65"/><circle cx="189.4" cy="401.0" r="1.65"/><circle cx="184.0" cy="437.8" r="1.65"/><circle cx="168.2" cy="411.5" r="1.65"/><circle cx="197.3" cy="395.1" r="1.65"/><circle cx="194.9" cy="419.9" r="1.65"/><circle cx="195.0" cy="412.1" r="1.65"/><circle cx="202.0" cy="370.5" r="1.65"/><circle cx="212.2" cy="443.7" r="1.65"/><circle cx="205.8" cy="422.2" r="1.65"/><circle cx="174.7" cy="403.0" r="1.65"/><circle cx="182.4" cy="395.0" r="1.65"/><circle cx="205.6" cy="391.3" r="1.65"/><circle cx="191.3" cy="372.6" r="1.65"/><circle cx="190.9" cy="406.5" r="1.65"/><circle cx="183.8" cy="392.8" r="1.65"/><circle cx="217.5" cy="384.4" r="1.65"/><circle cx="179.3" cy="391.2" r="1.65"/><circle cx="208.6" cy="440.7" r="1.65"/><circle cx="197.3" cy="392.8" r="1.65"/><circle cx="187.4" cy="423.1" r="1.65"/><circle cx="181.2" cy="429.7" r="1.65"/><circle cx="211.4" cy="406.2" r="1.65"/><circle cx="201.4" cy="417.7" r="1.65"/><circle cx="213.2" cy="387.1" r="1.65"/><circle cx="208.4" cy="398.6" r="1.65"/><circle cx="183.0" cy="406.7" r="1.65"/><circle cx="190.2" cy="388.2" r="1.65"/><circle cx="172.2" cy="389.0" r="1.65"/><circle cx="211.9" cy="438.4" r="1.65"/><circle cx="201.5" cy="425.2" r="1.65"/><circle cx="186.3" cy="403.7" r="1.65"/><circle cx="196.7" cy="386.6" r="1.65"/><circle cx="180.1" cy="406.7" r="1.65"/><circle cx="188.8" cy="386.9" r="1.65"/><circle cx="198.0" cy="400.5" r="1.65"/><circle cx="206.3" cy="404.9" r="1.65"/><circle cx="189.1" cy="407.2" r="1.65"/><circle cx="190.8" cy="393.6" r="1.65"/><circle cx="187.8" cy="417.7" r="1.65"/><circle cx="201.4" cy="426.9" r="1.65"/><circle cx="171.0" cy="398.3" r="1.65"/><circle cx="187.6" cy="407.9" r="1.65"/><circle cx="187.1" cy="396.3" r="1.65"/><circle cx="203.2" cy="408.0" r="1.65"/><circle cx="177.8" cy="427.7" r="1.65"/><circle cx="206.0" cy="395.2" r="1.65"/><circle cx="203.8" cy="392.5" r="1.65"/><circle cx="207.6" cy="401.3" r="1.65"/><circle cx="182.6" cy="398.7" r="1.65"/><circle cx="183.0" cy="408.3" r="1.65"/><circle cx="195.3" cy="405.6" r="1.65"/><circle cx="194.2" cy="372.8" r="1.65"/><circle cx="196.2" cy="424.2" r="1.65"/><circle cx="196.6" cy="398.4" r="1.65"/><circle cx="190.7" cy="402.7" r="1.65"/><circle cx="185.9" cy="395.1" r="1.65"/><circle cx="181.0" cy="425.2" r="1.65"/><circle cx="192.8" cy="421.3" r="1.65"/><circle cx="189.7" cy="406.2" r="1.65"/><circle cx="190.8" cy="412.9" r="1.65"/><circle cx="203.7" cy="409.1" r="1.65"/><circle cx="184.2" cy="391.7" r="1.65"/><circle cx="214.6" cy="400.2" r="1.65"/><circle cx="189.2" cy="429.9" r="1.65"/><circle cx="207.1" cy="414.1" r="1.65"/><circle cx="187.8" cy="445.0" r="1.65"/><circle cx="198.1" cy="414.3" r="1.65"/><circle cx="190.8" cy="381.0" r="1.65"/><circle cx="175.6" cy="411.9" r="1.65"/><circle cx="198.1" cy="400.9" r="1.65"/><circle cx="177.8" cy="380.5" r="1.65"/><circle cx="188.7" cy="380.2" r="1.65"/><circle cx="204.7" cy="424.6" r="1.65"/><circle cx="229.8" cy="419.9" r="1.65"/><circle cx="185.3" cy="390.2" r="1.65"/><circle cx="148.1" cy="394.9" r="1.65"/><circle cx="190.7" cy="421.5" r="1.65"/><circle cx="201.0" cy="415.0" r="1.65"/><circle cx="195.8" cy="416.2" r="1.65"/><circle cx="211.8" cy="386.9" r="1.65"/><circle cx="187.1" cy="381.4" r="1.65"/><circle cx="214.0" cy="427.0" r="1.65"/><circle cx="202.8" cy="384.6" r="1.65"/><circle cx="195.2" cy="401.0" r="1.65"/><circle cx="194.1" cy="401.8" r="1.65"/><circle cx="199.8" cy="398.3" r="1.65"/><circle cx="204.1" cy="409.1" r="1.65"/><circle cx="189.2" cy="403.1" r="1.65"/><circle cx="187.3" cy="418.8" r="1.65"/><circle cx="189.5" cy="410.0" r="1.65"/><circle cx="187.9" cy="379.8" r="1.65"/><circle cx="204.8" cy="387.0" r="1.65"/><circle cx="201.8" cy="412.1" r="1.65"/><circle cx="171.5" cy="388.9" r="1.65"/><circle cx="186.3" cy="391.0" r="1.65"/><circle cx="177.6" cy="417.6" r="1.65"/><circle cx="189.9" cy="411.6" r="1.65"/><circle cx="187.4" cy="410.2" r="1.65"/><circle cx="183.2" cy="404.5" r="1.65"/><circle cx="200.6" cy="405.8" r="1.65"/><circle cx="187.1" cy="386.5" r="1.65"/><circle cx="195.2" cy="410.9" r="1.65"/><circle cx="189.6" cy="391.9" r="1.65"/><circle cx="200.1" cy="447.2" r="1.65"/><circle cx="189.1" cy="410.7" r="1.65"/><circle cx="197.9" cy="361.4" r="1.65"/><circle cx="194.6" cy="393.0" r="1.65"/><circle cx="211.0" cy="400.7" r="1.65"/><circle cx="182.9" cy="401.3" r="1.65"/><circle cx="195.2" cy="395.5" r="1.65"/><circle cx="192.3" cy="382.0" r="1.65"/><circle cx="190.1" cy="418.2" r="1.65"/><circle cx="218.6" cy="417.0" r="1.65"/><circle cx="196.5" cy="425.1" r="1.65"/><circle cx="206.2" cy="433.3" r="1.65"/><circle cx="207.1" cy="403.0" r="1.65"/><circle cx="196.4" cy="408.0" r="1.65"/><circle cx="196.9" cy="408.4" r="1.65"/><circle cx="182.8" cy="369.2" r="1.65"/><circle cx="184.3" cy="370.6" r="1.65"/><circle cx="193.9" cy="405.1" r="1.65"/><circle cx="171.2" cy="416.7" r="1.65"/><circle cx="204.3" cy="406.6" r="1.65"/><circle cx="214.7" cy="436.8" r="1.65"/><circle cx="177.3" cy="422.6" r="1.65"/><circle cx="198.7" cy="412.1" r="1.65"/><circle cx="205.1" cy="392.8" r="1.65"/><circle cx="185.3" cy="390.9" r="1.65"/><circle cx="183.2" cy="403.3" r="1.65"/><circle cx="174.1" cy="387.2" r="1.65"/><circle cx="200.5" cy="403.8" r="1.65"/><circle cx="198.0" cy="372.9" r="1.65"/><circle cx="182.8" cy="395.6" r="1.65"/><circle cx="193.4" cy="395.0" r="1.65"/><circle cx="205.1" cy="404.0" r="1.65"/><circle cx="193.2" cy="405.2" r="1.65"/><circle cx="202.2" cy="397.0" r="1.65"/><circle cx="207.6" cy="412.8" r="1.65"/><circle cx="195.0" cy="405.7" r="1.65"/><circle cx="199.8" cy="422.3" r="1.65"/><circle cx="205.3" cy="411.4" r="1.65"/><circle cx="204.4" cy="407.0" r="1.65"/><circle cx="209.3" cy="404.5" r="1.65"/><circle cx="166.0" cy="427.7" r="1.65"/><circle cx="194.4" cy="385.1" r="1.65"/><circle cx="183.2" cy="462.0" r="1.65"/><circle cx="170.9" cy="474.9" r="1.65"/><circle cx="181.4" cy="487.3" r="1.65"/><circle cx="175.5" cy="449.8" r="1.65"/><circle cx="185.6" cy="466.9" r="1.65"/><circle cx="181.3" cy="450.7" r="1.65"/><circle cx="188.8" cy="485.1" r="1.65"/><circle cx="167.8" cy="480.5" r="1.65"/><circle cx="179.9" cy="491.1" r="1.65"/><circle cx="188.9" cy="468.3" r="1.65"/><circle cx="194.9" cy="474.7" r="1.65"/><circle cx="179.7" cy="476.4" r="1.65"/><circle cx="180.4" cy="453.9" r="1.65"/><circle cx="179.5" cy="473.0" r="1.65"/><circle cx="171.0" cy="457.8" r="1.65"/><circle cx="180.5" cy="465.3" r="1.65"/><circle cx="185.6" cy="480.1" r="1.65"/><circle cx="180.7" cy="474.4" r="1.65"/><circle cx="190.4" cy="460.2" r="1.65"/><circle cx="187.1" cy="461.5" r="1.65"/><circle cx="194.6" cy="474.1" r="1.65"/><circle cx="185.1" cy="457.9" r="1.65"/><circle cx="151.2" cy="437.4" r="1.65"/><circle cx="157.1" cy="441.3" r="1.65"/><circle cx="141.9" cy="447.6" r="1.65"/><circle cx="157.2" cy="438.4" r="1.65"/><circle cx="161.6" cy="440.2" r="1.65"/><circle cx="146.9" cy="442.7" r="1.65"/><circle cx="142.5" cy="439.4" r="1.65"/><circle cx="148.4" cy="451.2" r="1.65"/><circle cx="165.0" cy="440.4" r="1.65"/><circle cx="166.1" cy="441.7" r="1.65"/><circle cx="153.8" cy="447.3" r="1.65"/><circle cx="152.9" cy="456.5" r="1.65"/></g>
<g fill="#b9c8de"><circle cx="160.0" cy="451.7" r="1.65"/><circle cx="170.8" cy="410.7" r="1.65"/><circle cx="172.4" cy="425.5" r="1.65"/><circle cx="136.8" cy="414.0" r="1.65"/><circle cx="133.4" cy="424.1" r="1.65"/><circle cx="151.3" cy="430.8" r="1.65"/><circle cx="130.5" cy="406.8" r="1.65"/><circle cx="159.1" cy="399.7" r="1.65"/><circle cx="160.3" cy="428.4" r="1.65"/><circle cx="150.8" cy="412.1" r="1.65"/><circle cx="164.8" cy="409.2" r="1.65"/><circle cx="141.6" cy="397.2" r="1.65"/><circle cx="174.8" cy="406.4" r="1.65"/><circle cx="161.1" cy="442.2" r="1.65"/><circle cx="141.0" cy="433.5" r="1.65"/><circle cx="119.3" cy="420.6" r="1.65"/><circle cx="138.3" cy="406.2" r="1.65"/><circle cx="173.8" cy="420.1" r="1.65"/><circle cx="158.6" cy="435.9" r="1.65"/><circle cx="163.7" cy="406.2" r="1.65"/><circle cx="146.7" cy="411.6" r="1.65"/><circle cx="144.0" cy="402.9" r="1.65"/><circle cx="184.7" cy="410.1" r="1.65"/><circle cx="163.4" cy="415.3" r="1.65"/><circle cx="177.9" cy="437.4" r="1.65"/><circle cx="156.0" cy="405.9" r="1.65"/><circle cx="154.8" cy="408.0" r="1.65"/><circle cx="178.7" cy="436.1" r="1.65"/><circle cx="156.0" cy="420.0" r="1.65"/><circle cx="144.6" cy="411.6" r="1.65"/><circle cx="148.7" cy="430.4" r="1.65"/><circle cx="116.8" cy="419.7" r="1.65"/><circle cx="145.8" cy="428.9" r="1.65"/><circle cx="177.8" cy="418.0" r="1.65"/><circle cx="157.5" cy="438.7" r="1.65"/><circle cx="140.6" cy="428.7" r="1.65"/><circle cx="170.1" cy="452.5" r="1.65"/><circle cx="173.4" cy="405.3" r="1.65"/><circle cx="172.1" cy="428.3" r="1.65"/><circle cx="167.3" cy="410.8" r="1.65"/><circle cx="129.3" cy="419.2" r="1.65"/><circle cx="127.9" cy="418.1" r="1.65"/><circle cx="183.3" cy="432.0" r="1.65"/><circle cx="139.5" cy="413.6" r="1.65"/><circle cx="183.5" cy="424.1" r="1.65"/><circle cx="185.6" cy="428.4" r="1.65"/><circle cx="168.5" cy="432.4" r="1.65"/><circle cx="119.9" cy="423.2" r="1.65"/><circle cx="163.7" cy="440.7" r="1.65"/><circle cx="160.3" cy="456.3" r="1.65"/><circle cx="139.0" cy="421.3" r="1.65"/><circle cx="129.6" cy="400.1" r="1.65"/><circle cx="175.5" cy="403.9" r="1.65"/><circle cx="158.5" cy="426.2" r="1.65"/><circle cx="157.8" cy="437.2" r="1.65"/><circle cx="148.5" cy="435.3" r="1.65"/><circle cx="160.7" cy="408.2" r="1.65"/><circle cx="119.5" cy="422.1" r="1.65"/><circle cx="170.0" cy="446.7" r="1.65"/><circle cx="167.6" cy="403.9" r="1.65"/><circle cx="178.2" cy="428.9" r="1.65"/><circle cx="133.2" cy="412.2" r="1.65"/><circle cx="116.5" cy="415.9" r="1.65"/><circle cx="182.6" cy="429.8" r="1.65"/><circle cx="173.4" cy="437.1" r="1.65"/><circle cx="159.0" cy="408.7" r="1.65"/><circle cx="156.4" cy="399.4" r="1.65"/><circle cx="139.4" cy="416.4" r="1.65"/><circle cx="172.4" cy="416.1" r="1.65"/><circle cx="178.5" cy="409.0" r="1.65"/><circle cx="156.3" cy="436.0" r="1.65"/><circle cx="158.9" cy="402.9" r="1.65"/><circle cx="162.6" cy="435.5" r="1.65"/><circle cx="174.3" cy="446.0" r="1.65"/><circle cx="126.6" cy="398.6" r="1.65"/><circle cx="161.9" cy="410.1" r="1.65"/><circle cx="142.3" cy="412.4" r="1.65"/><circle cx="147.9" cy="437.1" r="1.65"/><circle cx="122.3" cy="420.2" r="1.65"/><circle cx="174.8" cy="420.0" r="1.65"/><circle cx="141.8" cy="429.9" r="1.65"/><circle cx="130.5" cy="412.1" r="1.65"/><circle cx="138.7" cy="424.9" r="1.65"/><circle cx="156.7" cy="415.3" r="1.65"/><circle cx="124.4" cy="405.1" r="1.65"/><circle cx="124.4" cy="402.0" r="1.65"/><circle cx="180.3" cy="413.4" r="1.65"/><circle cx="159.6" cy="408.4" r="1.65"/><circle cx="170.9" cy="447.4" r="1.65"/><circle cx="163.5" cy="419.6" r="1.65"/><circle cx="169.5" cy="408.6" r="1.65"/><circle cx="168.9" cy="451.7" r="1.65"/><circle cx="124.1" cy="408.2" r="1.65"/><circle cx="172.6" cy="436.3" r="1.65"/><circle cx="166.9" cy="457.8" r="1.65"/><circle cx="171.0" cy="421.1" r="1.65"/><circle cx="161.2" cy="408.3" r="1.65"/><circle cx="169.7" cy="443.2" r="1.65"/><circle cx="166.9" cy="424.1" r="1.65"/><circle cx="142.2" cy="422.6" r="1.65"/><circle cx="154.1" cy="420.6" r="1.65"/><circle cx="154.5" cy="441.0" r="1.65"/><circle cx="181.2" cy="420.6" r="1.65"/><circle cx="166.3" cy="447.3" r="1.65"/><circle cx="181.3" cy="404.5" r="1.65"/><circle cx="123.4" cy="407.8" r="1.65"/><circle cx="156.4" cy="424.2" r="1.65"/><circle cx="169.0" cy="408.6" r="1.65"/><circle cx="180.8" cy="410.2" r="1.65"/><circle cx="170.4" cy="401.1" r="1.65"/><circle cx="149.1" cy="399.0" r="1.65"/><circle cx="137.6" cy="416.0" r="1.65"/><circle cx="166.8" cy="424.8" r="1.65"/><circle cx="132.8" cy="421.0" r="1.65"/><circle cx="131.4" cy="404.6" r="1.65"/><circle cx="123.9" cy="407.8" r="1.65"/><circle cx="177.0" cy="426.5" r="1.65"/><circle cx="134.1" cy="429.1" r="1.65"/><circle cx="135.4" cy="428.5" r="1.65"/><circle cx="160.3" cy="429.7" r="1.65"/><circle cx="177.9" cy="407.9" r="1.65"/><circle cx="124.8" cy="403.9" r="1.65"/><circle cx="117.9" cy="416.2" r="1.65"/><circle cx="158.2" cy="401.1" r="1.65"/><circle cx="132.0" cy="425.4" r="1.65"/><circle cx="174.7" cy="443.4" r="1.65"/><circle cx="166.0" cy="448.8" r="1.65"/><circle cx="164.1" cy="441.9" r="1.65"/><circle cx="136.7" cy="407.2" r="1.65"/><circle cx="169.5" cy="407.1" r="1.65"/><circle cx="181.2" cy="433.4" r="1.65"/><circle cx="156.4" cy="446.0" r="1.65"/><circle cx="165.6" cy="436.3" r="1.65"/><circle cx="183.4" cy="423.4" r="1.65"/><circle cx="175.1" cy="417.4" r="1.65"/><circle cx="163.2" cy="409.8" r="1.65"/><circle cx="154.7" cy="443.9" r="1.65"/><circle cx="148.7" cy="422.0" r="1.65"/><circle cx="166.9" cy="428.9" r="1.65"/><circle cx="167.6" cy="402.2" r="1.65"/><circle cx="155.5" cy="431.0" r="1.65"/><circle cx="147.6" cy="435.5" r="1.65"/><circle cx="154.7" cy="401.5" r="1.65"/><circle cx="157.7" cy="410.6" r="1.65"/><circle cx="129.2" cy="424.7" r="1.65"/><circle cx="169.0" cy="440.1" r="1.65"/><circle cx="154.8" cy="446.2" r="1.65"/><circle cx="148.5" cy="434.8" r="1.65"/><circle cx="174.0" cy="438.4" r="1.65"/><circle cx="161.2" cy="421.8" r="1.65"/><circle cx="155.2" cy="421.2" r="1.65"/><circle cx="168.6" cy="420.2" r="1.65"/><circle cx="151.3" cy="417.6" r="1.65"/><circle cx="174.5" cy="420.2" r="1.65"/><circle cx="175.8" cy="444.9" r="1.65"/><circle cx="147.2" cy="440.5" r="1.65"/><circle cx="117.5" cy="420.8" r="1.65"/><circle cx="176.9" cy="432.4" r="1.65"/><circle cx="155.2" cy="437.5" r="1.65"/><circle cx="163.8" cy="432.6" r="1.65"/><circle cx="145.3" cy="408.2" r="1.65"/><circle cx="136.1" cy="414.9" r="1.65"/><circle cx="140.4" cy="424.3" r="1.65"/><circle cx="141.8" cy="432.5" r="1.65"/><circle cx="142.2" cy="413.3" r="1.65"/><circle cx="178.7" cy="427.1" r="1.65"/><circle cx="164.4" cy="401.5" r="1.65"/><circle cx="177.4" cy="416.1" r="1.65"/><circle cx="150.6" cy="409.1" r="1.65"/><circle cx="174.6" cy="425.9" r="1.65"/><circle cx="170.3" cy="424.9" r="1.65"/><circle cx="141.9" cy="430.3" r="1.65"/><circle cx="129.5" cy="416.3" r="1.65"/><circle cx="165.9" cy="444.0" r="1.65"/><circle cx="173.9" cy="424.2" r="1.65"/><circle cx="142.1" cy="435.9" r="1.65"/><circle cx="133.6" cy="426.1" r="1.65"/><circle cx="152.8" cy="435.5" r="1.65"/><circle cx="135.8" cy="415.7" r="1.65"/><circle cx="133.5" cy="401.1" r="1.65"/><circle cx="166.1" cy="408.9" r="1.65"/><circle cx="124.9" cy="416.6" r="1.65"/><circle cx="170.3" cy="426.8" r="1.65"/><circle cx="159.7" cy="443.8" r="1.65"/><circle cx="169.0" cy="418.0" r="1.65"/><circle cx="133.5" cy="423.7" r="1.65"/><circle cx="150.2" cy="405.6" r="1.65"/><circle cx="146.8" cy="436.0" r="1.65"/><circle cx="124.8" cy="405.4" r="1.65"/><circle cx="127.5" cy="414.3" r="1.65"/><circle cx="128.2" cy="407.1" r="1.65"/><circle cx="149.2" cy="397.9" r="1.65"/><circle cx="148.0" cy="406.9" r="1.65"/><circle cx="144.3" cy="422.5" r="1.65"/><circle cx="173.8" cy="406.8" r="1.65"/><circle cx="163.1" cy="400.0" r="1.65"/><circle cx="162.8" cy="433.6" r="1.65"/><circle cx="170.6" cy="410.0" r="1.65"/><circle cx="123.2" cy="416.2" r="1.65"/><circle cx="159.1" cy="437.6" r="1.65"/><circle cx="163.8" cy="431.8" r="1.65"/><circle cx="139.2" cy="428.3" r="1.65"/><circle cx="165.0" cy="422.7" r="1.65"/><circle cx="176.3" cy="443.1" r="1.65"/><circle cx="139.2" cy="401.7" r="1.65"/><circle cx="124.5" cy="408.2" r="1.65"/><circle cx="136.9" cy="424.3" r="1.65"/><circle cx="181.8" cy="414.0" r="1.65"/><circle cx="179.7" cy="438.5" r="1.65"/><circle cx="176.5" cy="421.6" r="1.65"/><circle cx="132.7" cy="405.7" r="1.65"/><circle cx="172.6" cy="438.9" r="1.65"/><circle cx="130.3" cy="413.3" r="1.65"/><circle cx="182.6" cy="413.4" r="1.65"/><circle cx="165.6" cy="404.9" r="1.65"/><circle cx="173.7" cy="404.2" r="1.65"/><circle cx="152.2" cy="399.1" r="1.65"/><circle cx="121.1" cy="413.7" r="1.65"/><circle cx="170.1" cy="434.1" r="1.65"/><circle cx="160.8" cy="442.2" r="1.65"/><circle cx="165.3" cy="420.6" r="1.65"/><circle cx="166.4" cy="409.5" r="1.65"/><circle cx="167.6" cy="414.0" r="1.65"/><circle cx="147.3" cy="414.6" r="1.65"/><circle cx="137.0" cy="401.7" r="1.65"/><circle cx="130.8" cy="413.5" r="1.65"/><circle cx="127.5" cy="400.8" r="1.65"/><circle cx="148.5" cy="410.1" r="1.65"/><circle cx="168.2" cy="453.3" r="1.65"/><circle cx="151.5" cy="401.6" r="1.65"/><circle cx="120.3" cy="413.2" r="1.65"/><circle cx="173.5" cy="425.6" r="1.65"/><circle cx="138.0" cy="399.5" r="1.65"/><circle cx="143.2" cy="406.4" r="1.65"/><circle cx="183.7" cy="432.3" r="1.65"/><circle cx="161.6" cy="416.7" r="1.65"/><circle cx="156.1" cy="442.9" r="1.65"/><circle cx="157.4" cy="446.0" r="1.65"/><circle cx="154.6" cy="409.1" r="1.65"/><circle cx="157.0" cy="426.9" r="1.65"/><circle cx="173.8" cy="405.2" r="1.65"/><circle cx="154.2" cy="441.8" r="1.65"/><circle cx="144.0" cy="413.5" r="1.65"/><circle cx="141.8" cy="430.0" r="1.65"/><circle cx="164.4" cy="431.1" r="1.65"/><circle cx="133.0" cy="407.6" r="1.65"/><circle cx="118.2" cy="417.3" r="1.65"/><circle cx="128.9" cy="425.6" r="1.65"/><circle cx="127.3" cy="426.7" r="1.65"/><circle cx="152.7" cy="442.5" r="1.65"/><circle cx="146.5" cy="405.6" r="1.65"/><circle cx="169.1" cy="404.1" r="1.65"/><circle cx="173.2" cy="416.0" r="1.65"/><circle cx="177.7" cy="406.9" r="1.65"/><circle cx="147.8" cy="437.4" r="1.65"/><circle cx="151.6" cy="407.1" r="1.65"/><circle cx="125.0" cy="414.4" r="1.65"/><circle cx="118.8" cy="410.2" r="1.65"/><circle cx="124.4" cy="425.4" r="1.65"/><circle cx="140.7" cy="432.8" r="1.65"/><circle cx="135.2" cy="399.1" r="1.65"/><circle cx="133.4" cy="421.7" r="1.65"/><circle cx="169.4" cy="421.8" r="1.65"/><circle cx="133.2" cy="405.5" r="1.65"/><circle cx="146.5" cy="433.8" r="1.65"/><circle cx="182.4" cy="405.9" r="1.65"/><circle cx="166.3" cy="426.0" r="1.65"/><circle cx="165.1" cy="404.9" r="1.65"/><circle cx="121.7" cy="417.2" r="1.65"/><circle cx="181.1" cy="434.3" r="1.65"/><circle cx="148.0" cy="431.4" r="1.65"/><circle cx="168.1" cy="438.4" r="1.65"/><circle cx="173.5" cy="422.1" r="1.65"/><circle cx="171.4" cy="451.4" r="1.65"/><circle cx="183.1" cy="419.7" r="1.65"/><circle cx="182.7" cy="421.8" r="1.65"/><circle cx="148.9" cy="424.3" r="1.65"/><circle cx="142.8" cy="423.4" r="1.65"/><circle cx="125.1" cy="400.7" r="1.65"/><circle cx="169.3" cy="431.4" r="1.65"/><circle cx="163.4" cy="445.9" r="1.65"/><circle cx="131.6" cy="411.3" r="1.65"/><circle cx="135.0" cy="415.5" r="1.65"/><circle cx="169.8" cy="419.8" r="1.65"/><circle cx="128.4" cy="403.5" r="1.65"/><circle cx="165.2" cy="443.1" r="1.65"/><circle cx="117.5" cy="421.7" r="1.65"/><circle cx="156.6" cy="412.5" r="1.65"/><circle cx="140.1" cy="434.2" r="1.65"/><circle cx="157.5" cy="406.4" r="1.65"/><circle cx="165.9" cy="401.9" r="1.65"/><circle cx="133.3" cy="409.2" r="1.65"/><circle cx="152.5" cy="433.7" r="1.65"/><circle cx="165.6" cy="417.5" r="1.65"/><circle cx="138.6" cy="397.3" r="1.65"/><circle cx="120.5" cy="409.4" r="1.65"/><circle cx="139.0" cy="401.3" r="1.65"/><circle cx="146.3" cy="409.5" r="1.65"/><circle cx="179.6" cy="435.8" r="1.65"/><circle cx="121.7" cy="416.4" r="1.65"/><circle cx="117.0" cy="410.4" r="1.65"/><circle cx="160.6" cy="403.1" r="1.65"/><circle cx="139.2" cy="417.3" r="1.65"/><circle cx="163.7" cy="430.4" r="1.65"/><circle cx="159.5" cy="403.1" r="1.65"/><circle cx="161.1" cy="428.6" r="1.65"/><circle cx="119.8" cy="404.9" r="1.65"/><circle cx="164.9" cy="446.5" r="1.65"/><circle cx="171.6" cy="424.6" r="1.65"/><circle cx="127.7" cy="399.2" r="1.65"/><circle cx="144.0" cy="416.0" r="1.65"/><circle cx="146.9" cy="409.2" r="1.65"/><circle cx="166.3" cy="427.7" r="1.65"/><circle cx="137.8" cy="414.1" r="1.65"/><circle cx="182.6" cy="427.7" r="1.65"/><circle cx="121.9" cy="399.8" r="1.65"/><circle cx="151.3" cy="423.6" r="1.65"/><circle cx="124.0" cy="406.3" r="1.65"/><circle cx="159.9" cy="441.5" r="1.65"/><circle cx="156.5" cy="409.8" r="1.65"/><circle cx="165.3" cy="408.9" r="1.65"/><circle cx="153.8" cy="400.5" r="1.65"/><circle cx="145.9" cy="437.3" r="1.65"/><circle cx="119.1" cy="412.4" r="1.65"/><circle cx="142.5" cy="427.7" r="1.65"/><circle cx="184.1" cy="427.1" r="1.65"/><circle cx="173.1" cy="430.1" r="1.65"/><circle cx="142.3" cy="418.4" r="1.65"/><circle cx="120.0" cy="412.8" r="1.65"/><circle cx="159.9" cy="403.0" r="1.65"/><circle cx="163.2" cy="455.7" r="1.65"/><circle cx="173.1" cy="407.9" r="1.65"/><circle cx="159.8" cy="428.8" r="1.65"/><circle cx="135.9" cy="404.7" r="1.65"/><circle cx="181.4" cy="405.7" r="1.65"/><circle cx="116.0" cy="413.1" r="1.65"/><circle cx="124.7" cy="408.5" r="1.65"/><circle cx="157.0" cy="422.8" r="1.65"/><circle cx="145.9" cy="409.5" r="1.65"/><circle cx="162.9" cy="414.7" r="1.65"/><circle cx="143.7" cy="425.3" r="1.65"/><circle cx="180.1" cy="412.0" r="1.65"/><circle cx="166.7" cy="415.9" r="1.65"/><circle cx="179.4" cy="421.0" r="1.65"/><circle cx="163.4" cy="402.8" r="1.65"/><circle cx="117.1" cy="415.4" r="1.65"/><circle cx="126.6" cy="410.0" r="1.65"/><circle cx="157.7" cy="416.4" r="1.65"/><circle cx="172.9" cy="431.3" r="1.65"/><circle cx="160.3" cy="423.1" r="1.65"/><circle cx="177.2" cy="420.8" r="1.65"/><circle cx="151.8" cy="404.0" r="1.65"/><circle cx="155.6" cy="443.8" r="1.65"/><circle cx="167.7" cy="412.7" r="1.65"/><circle cx="145.5" cy="422.3" r="1.65"/><circle cx="171.1" cy="407.7" r="1.65"/><circle cx="161.1" cy="440.8" r="1.65"/><circle cx="148.7" cy="425.4" r="1.65"/><circle cx="128.4" cy="419.4" r="1.65"/><circle cx="138.7" cy="431.8" r="1.65"/><circle cx="177.6" cy="436.8" r="1.65"/><circle cx="121.0" cy="404.3" r="1.65"/><circle cx="169.0" cy="424.4" r="1.65"/><circle cx="136.4" cy="430.5" r="1.65"/><circle cx="168.5" cy="449.3" r="1.65"/><circle cx="185.8" cy="425.0" r="1.65"/><circle cx="170.4" cy="402.9" r="1.65"/><circle cx="177.9" cy="432.5" r="1.65"/><circle cx="166.5" cy="409.0" r="1.65"/><circle cx="134.1" cy="416.8" r="1.65"/><circle cx="157.6" cy="435.3" r="1.65"/><circle cx="128.9" cy="419.1" r="1.65"/><circle cx="173.9" cy="430.5" r="1.65"/><circle cx="151.9" cy="443.4" r="1.65"/><circle cx="162.2" cy="414.7" r="1.65"/><circle cx="178.4" cy="433.5" r="1.65"/><circle cx="118.8" cy="423.8" r="1.65"/><circle cx="142.7" cy="432.5" r="1.65"/><circle cx="139.3" cy="421.9" r="1.65"/><circle cx="159.2" cy="451.1" r="1.65"/><circle cx="165.8" cy="425.7" r="1.65"/><circle cx="173.6" cy="426.6" r="1.65"/><circle cx="184.4" cy="414.2" r="1.65"/><circle cx="158.9" cy="428.0" r="1.65"/><circle cx="178.1" cy="415.5" r="1.65"/><circle cx="149.5" cy="404.6" r="1.65"/><circle cx="150.9" cy="412.1" r="1.65"/><circle cx="144.4" cy="436.1" r="1.65"/><circle cx="126.6" cy="426.1" r="1.65"/><circle cx="180.8" cy="421.3" r="1.65"/><circle cx="121.1" cy="409.6" r="1.65"/><circle cx="170.0" cy="400.6" r="1.65"/><circle cx="165.6" cy="452.9" r="1.65"/><circle cx="140.8" cy="403.0" r="1.65"/><circle cx="167.4" cy="405.4" r="1.65"/><circle cx="155.3" cy="428.8" r="1.65"/><circle cx="183.2" cy="414.3" r="1.65"/><circle cx="141.2" cy="417.0" r="1.65"/><circle cx="179.1" cy="433.5" r="1.65"/><circle cx="163.4" cy="441.7" r="1.65"/><circle cx="151.0" cy="400.1" r="1.65"/><circle cx="151.3" cy="441.9" r="1.65"/><circle cx="162.3" cy="434.6" r="1.65"/><circle cx="118.3" cy="411.4" r="1.65"/><circle cx="179.6" cy="404.5" r="1.65"/><circle cx="153.4" cy="400.1" r="1.65"/><circle cx="182.6" cy="407.5" r="1.65"/><circle cx="144.5" cy="430.4" r="1.65"/><circle cx="166.7" cy="454.2" r="1.65"/><circle cx="168.0" cy="418.2" r="1.65"/><circle cx="170.8" cy="407.7" r="1.65"/><circle cx="148.1" cy="428.9" r="1.65"/><circle cx="164.5" cy="420.9" r="1.65"/><circle cx="166.5" cy="425.5" r="1.65"/><circle cx="144.7" cy="419.3" r="1.65"/><circle cx="150.5" cy="414.2" r="1.65"/><circle cx="132.4" cy="406.1" r="1.65"/><circle cx="146.7" cy="414.9" r="1.65"/><circle cx="175.3" cy="448.7" r="1.65"/><circle cx="180.0" cy="418.9" r="1.65"/><circle cx="154.9" cy="424.1" r="1.65"/><circle cx="161.8" cy="455.5" r="1.65"/><circle cx="162.9" cy="445.5" r="1.65"/><circle cx="160.7" cy="450.1" r="1.65"/><circle cx="134.0" cy="428.0" r="1.65"/><circle cx="164.1" cy="409.3" r="1.65"/><circle cx="173.2" cy="437.6" r="1.65"/><circle cx="156.5" cy="434.6" r="1.65"/><circle cx="147.2" cy="410.7" r="1.65"/><circle cx="167.3" cy="425.3" r="1.65"/><circle cx="168.7" cy="419.2" r="1.65"/><circle cx="159.8" cy="453.2" r="1.65"/><circle cx="170.6" cy="412.9" r="1.65"/><circle cx="165.2" cy="420.1" r="1.65"/><circle cx="138.2" cy="426.8" r="1.65"/><circle cx="153.2" cy="439.4" r="1.65"/><circle cx="160.9" cy="438.4" r="1.65"/><circle cx="139.9" cy="434.1" r="1.65"/><circle cx="148.1" cy="431.3" r="1.65"/><circle cx="130.8" cy="420.5" r="1.65"/><circle cx="179.3" cy="418.6" r="1.65"/><circle cx="123.8" cy="419.1" r="1.65"/><circle cx="150.6" cy="404.2" r="1.65"/><circle cx="137.9" cy="413.8" r="1.65"/><circle cx="166.4" cy="457.2" r="1.65"/><circle cx="146.2" cy="414.6" r="1.65"/><circle cx="174.2" cy="442.5" r="1.65"/><circle cx="124.6" cy="414.8" r="1.65"/><circle cx="159.0" cy="450.2" r="1.65"/><circle cx="161.4" cy="410.5" r="1.65"/><circle cx="141.7" cy="435.0" r="1.65"/><circle cx="181.7" cy="415.4" r="1.65"/><circle cx="143.5" cy="398.4" r="1.65"/><circle cx="165.2" cy="424.1" r="1.65"/><circle cx="172.4" cy="411.3" r="1.65"/><circle cx="162.5" cy="438.1" r="1.65"/><circle cx="148.4" cy="408.5" r="1.65"/><circle cx="128.6" cy="402.5" r="1.65"/><circle cx="148.3" cy="411.3" r="1.65"/><circle cx="172.6" cy="446.9" r="1.65"/><circle cx="161.6" cy="408.4" r="1.65"/><circle cx="174.3" cy="441.4" r="1.65"/><circle cx="168.8" cy="439.5" r="1.65"/><circle cx="174.8" cy="415.2" r="1.65"/><circle cx="163.4" cy="428.6" r="1.65"/><circle cx="139.3" cy="416.9" r="1.65"/><circle cx="141.5" cy="422.7" r="1.65"/><circle cx="176.3" cy="438.6" r="1.65"/><circle cx="164.0" cy="457.0" r="1.65"/><circle cx="121.7" cy="421.0" r="1.65"/><circle cx="169.6" cy="449.8" r="1.65"/><circle cx="146.8" cy="418.6" r="1.65"/><circle cx="151.4" cy="408.9" r="1.65"/><circle cx="137.1" cy="415.6" r="1.65"/><circle cx="186.2" cy="417.4" r="1.65"/><circle cx="176.4" cy="436.5" r="1.65"/><circle cx="145.8" cy="409.0" r="1.65"/><circle cx="122.6" cy="403.3" r="1.65"/><circle cx="140.1" cy="421.8" r="1.65"/><circle cx="181.5" cy="429.7" r="1.65"/><circle cx="126.5" cy="399.4" r="1.65"/><circle cx="183.0" cy="417.6" r="1.65"/><circle cx="128.7" cy="403.2" r="1.65"/><circle cx="162.0" cy="425.1" r="1.65"/><circle cx="150.2" cy="429.7" r="1.65"/><circle cx="147.9" cy="438.2" r="1.65"/><circle cx="131.9" cy="403.2" r="1.65"/><circle cx="129.1" cy="412.1" r="1.65"/><circle cx="176.4" cy="439.6" r="1.65"/><circle cx="137.7" cy="420.9" r="1.65"/><circle cx="146.7" cy="414.9" r="1.65"/><circle cx="120.5" cy="413.9" r="1.65"/><circle cx="149.5" cy="438.2" r="1.65"/><circle cx="161.5" cy="441.2" r="1.65"/><circle cx="122.6" cy="408.0" r="1.65"/><circle cx="137.2" cy="414.2" r="1.65"/><circle cx="164.2" cy="399.0" r="1.65"/><circle cx="181.6" cy="433.3" r="1.65"/><circle cx="140.1" cy="418.7" r="1.65"/><circle cx="160.6" cy="449.7" r="1.65"/><circle cx="139.5" cy="408.6" r="1.65"/><circle cx="176.3" cy="435.1" r="1.65"/><circle cx="162.6" cy="401.1" r="1.65"/><circle cx="143.9" cy="435.9" r="1.65"/><circle cx="164.5" cy="424.6" r="1.65"/><circle cx="148.6" cy="440.8" r="1.65"/><circle cx="153.5" cy="401.9" r="1.65"/><circle cx="132.0" cy="400.8" r="1.65"/><circle cx="128.7" cy="409.2" r="1.65"/><circle cx="144.9" cy="416.6" r="1.65"/><circle cx="173.2" cy="429.6" r="1.65"/><circle cx="146.6" cy="413.3" r="1.65"/><circle cx="154.0" cy="410.5" r="1.65"/><circle cx="138.2" cy="398.5" r="1.65"/><circle cx="178.9" cy="415.2" r="1.65"/><circle cx="162.3" cy="449.3" r="1.65"/><circle cx="172.5" cy="449.6" r="1.65"/><circle cx="148.2" cy="413.1" r="1.65"/><circle cx="149.6" cy="417.5" r="1.65"/><circle cx="170.2" cy="447.7" r="1.65"/><circle cx="125.2" cy="407.0" r="1.65"/><circle cx="142.6" cy="425.3" r="1.65"/><circle cx="163.8" cy="413.5" r="1.65"/><circle cx="141.8" cy="397.2" r="1.65"/><circle cx="175.0" cy="413.8" r="1.65"/><circle cx="120.7" cy="416.3" r="1.65"/><circle cx="160.3" cy="431.1" r="1.65"/><circle cx="169.8" cy="428.3" r="1.65"/><circle cx="126.6" cy="410.2" r="1.65"/><circle cx="142.3" cy="417.2" r="1.65"/><circle cx="119.4" cy="421.8" r="1.65"/><circle cx="147.3" cy="414.5" r="1.65"/><circle cx="142.7" cy="417.3" r="1.65"/><circle cx="142.1" cy="434.8" r="1.65"/><circle cx="150.8" cy="409.1" r="1.65"/><circle cx="172.3" cy="428.3" r="1.65"/><circle cx="148.0" cy="440.5" r="1.65"/><circle cx="169.2" cy="448.8" r="1.65"/><circle cx="173.4" cy="437.8" r="1.65"/><circle cx="166.9" cy="406.6" r="1.65"/><circle cx="165.3" cy="412.5" r="1.65"/><circle cx="133.6" cy="404.3" r="1.65"/><circle cx="143.6" cy="398.2" r="1.65"/><circle cx="162.3" cy="442.6" r="1.65"/><circle cx="170.8" cy="404.9" r="1.65"/><circle cx="161.2" cy="448.1" r="1.65"/><circle cx="117.6" cy="408.8" r="1.65"/><circle cx="134.3" cy="425.2" r="1.65"/><circle cx="153.3" cy="438.9" r="1.65"/><circle cx="167.9" cy="441.0" r="1.65"/><circle cx="156.5" cy="413.6" r="1.65"/><circle cx="146.3" cy="428.6" r="1.65"/><circle cx="152.3" cy="412.1" r="1.65"/><circle cx="134.1" cy="419.2" r="1.65"/><circle cx="171.2" cy="423.7" r="1.65"/><circle cx="129.5" cy="397.8" r="1.65"/><circle cx="185.3" cy="414.9" r="1.65"/><circle cx="153.7" cy="418.9" r="1.65"/><circle cx="182.4" cy="408.4" r="1.65"/><circle cx="145.1" cy="419.8" r="1.65"/><circle cx="171.3" cy="443.3" r="1.65"/><circle cx="165.6" cy="420.6" r="1.65"/><circle cx="116.7" cy="413.4" r="1.65"/><circle cx="131.4" cy="399.9" r="1.65"/><circle cx="145.0" cy="436.6" r="1.65"/><circle cx="175.4" cy="412.6" r="1.65"/><circle cx="150.9" cy="426.2" r="1.65"/><circle cx="171.3" cy="425.2" r="1.65"/><circle cx="150.8" cy="426.7" r="1.65"/><circle cx="147.7" cy="421.7" r="1.65"/><circle cx="126.6" cy="415.0" r="1.65"/><circle cx="134.1" cy="412.1" r="1.65"/><circle cx="171.4" cy="404.0" r="1.65"/><circle cx="137.5" cy="411.6" r="1.65"/><circle cx="141.9" cy="427.6" r="1.65"/><circle cx="163.6" cy="456.3" r="1.65"/><circle cx="176.4" cy="423.2" r="1.65"/><circle cx="147.5" cy="422.4" r="1.65"/><circle cx="119.9" cy="409.5" r="1.65"/><circle cx="162.7" cy="433.0" r="1.65"/><circle cx="144.5" cy="433.4" r="1.65"/><circle cx="122.4" cy="421.0" r="1.65"/><circle cx="131.8" cy="398.9" r="1.65"/><circle cx="147.5" cy="400.9" r="1.65"/><circle cx="138.4" cy="409.4" r="1.65"/><circle cx="164.5" cy="419.6" r="1.65"/><circle cx="175.6" cy="445.6" r="1.65"/><circle cx="181.9" cy="434.8" r="1.65"/><circle cx="182.9" cy="418.2" r="1.65"/><circle cx="162.9" cy="411.2" r="1.65"/><circle cx="155.8" cy="415.8" r="1.65"/><circle cx="181.2" cy="417.9" r="1.65"/><circle cx="129.1" cy="399.6" r="1.65"/><circle cx="130.7" cy="424.9" r="1.65"/><circle cx="175.1" cy="405.7" r="1.65"/><circle cx="157.6" cy="430.9" r="1.65"/><circle cx="164.9" cy="415.7" r="1.65"/><circle cx="142.7" cy="411.7" r="1.65"/><circle cx="136.0" cy="407.7" r="1.65"/><circle cx="150.3" cy="414.1" r="1.65"/><circle cx="139.6" cy="432.3" r="1.65"/><circle cx="183.0" cy="415.2" r="1.65"/><circle cx="173.2" cy="404.0" r="1.65"/><circle cx="167.8" cy="446.2" r="1.65"/><circle cx="166.2" cy="456.6" r="1.65"/><circle cx="135.0" cy="428.8" r="1.65"/><circle cx="130.4" cy="402.1" r="1.65"/><circle cx="182.8" cy="412.1" r="1.65"/><circle cx="139.0" cy="425.2" r="1.65"/><circle cx="175.1" cy="418.8" r="1.65"/><circle cx="173.0" cy="444.7" r="1.65"/><circle cx="161.1" cy="417.2" r="1.65"/><circle cx="153.3" cy="434.0" r="1.65"/><circle cx="153.7" cy="403.8" r="1.65"/><circle cx="153.3" cy="404.7" r="1.65"/><circle cx="174.1" cy="423.4" r="1.65"/><circle cx="166.3" cy="447.5" r="1.65"/><circle cx="153.7" cy="400.0" r="1.65"/><circle cx="174.2" cy="439.3" r="1.65"/><circle cx="180.5" cy="413.5" r="1.65"/><circle cx="171.5" cy="450.3" r="1.65"/><circle cx="140.6" cy="422.0" r="1.65"/><circle cx="139.0" cy="397.3" r="1.65"/><circle cx="131.7" cy="417.2" r="1.65"/><circle cx="145.7" cy="431.7" r="1.65"/><circle cx="135.5" cy="419.0" r="1.65"/><circle cx="169.2" cy="425.7" r="1.65"/><circle cx="157.9" cy="422.8" r="1.65"/><circle cx="134.3" cy="428.7" r="1.65"/><circle cx="164.5" cy="402.3" r="1.65"/><circle cx="184.3" cy="427.4" r="1.65"/><circle cx="173.7" cy="435.5" r="1.65"/><circle cx="153.0" cy="442.3" r="1.65"/><circle cx="181.0" cy="436.1" r="1.65"/><circle cx="158.4" cy="420.7" r="1.65"/><circle cx="156.2" cy="430.8" r="1.65"/><circle cx="168.1" cy="453.4" r="1.65"/><circle cx="136.3" cy="425.5" r="1.65"/><circle cx="136.0" cy="426.8" r="1.65"/><circle cx="176.3" cy="413.5" r="1.65"/><circle cx="174.3" cy="411.9" r="1.65"/><circle cx="136.8" cy="430.8" r="1.65"/><circle cx="162.1" cy="450.7" r="1.65"/><circle cx="178.3" cy="412.3" r="1.65"/><circle cx="168.7" cy="435.7" r="1.65"/><circle cx="179.6" cy="426.2" r="1.65"/><circle cx="181.0" cy="404.8" r="1.65"/><circle cx="150.8" cy="405.9" r="1.65"/><circle cx="169.3" cy="442.2" r="1.65"/><circle cx="125.5" cy="412.8" r="1.65"/><circle cx="172.6" cy="452.6" r="1.65"/><circle cx="177.6" cy="427.6" r="1.65"/><circle cx="141.5" cy="424.2" r="1.65"/><circle cx="131.6" cy="406.9" r="1.65"/><circle cx="142.4" cy="400.9" r="1.65"/><circle cx="148.9" cy="439.5" r="1.65"/><circle cx="161.9" cy="456.5" r="1.65"/><circle cx="178.8" cy="435.7" r="1.65"/><circle cx="179.6" cy="424.1" r="1.65"/><circle cx="172.5" cy="414.4" r="1.65"/><circle cx="158.1" cy="427.9" r="1.65"/><circle cx="171.7" cy="416.1" r="1.65"/><circle cx="132.2" cy="407.8" r="1.65"/><circle cx="116.7" cy="415.2" r="1.65"/><circle cx="156.4" cy="439.9" r="1.65"/><circle cx="170.7" cy="420.4" r="1.65"/><circle cx="123.8" cy="401.0" r="1.65"/><circle cx="131.7" cy="427.0" r="1.65"/><circle cx="155.6" cy="428.8" r="1.65"/><circle cx="164.9" cy="435.2" r="1.65"/><circle cx="139.2" cy="402.7" r="1.65"/><circle cx="160.7" cy="445.6" r="1.65"/><circle cx="157.8" cy="430.4" r="1.65"/><circle cx="173.9" cy="435.2" r="1.65"/><circle cx="163.6" cy="406.6" r="1.65"/><circle cx="158.5" cy="418.7" r="1.65"/><circle cx="120.4" cy="405.1" r="1.65"/><circle cx="149.5" cy="413.0" r="1.65"/><circle cx="170.1" cy="404.5" r="1.65"/><circle cx="137.5" cy="428.1" r="1.65"/><circle cx="130.1" cy="409.7" r="1.65"/><circle cx="140.9" cy="411.3" r="1.65"/><circle cx="128.2" cy="416.7" r="1.65"/><circle cx="171.6" cy="437.7" r="1.65"/><circle cx="167.9" cy="438.1" r="1.65"/><circle cx="130.1" cy="423.0" r="1.65"/><circle cx="121.3" cy="407.9" r="1.65"/><circle cx="170.2" cy="427.5" r="1.65"/><circle cx="162.7" cy="441.8" r="1.65"/><circle cx="158.7" cy="409.1" r="1.65"/><circle cx="165.3" cy="404.1" r="1.65"/><circle cx="134.4" cy="424.3" r="1.65"/><circle cx="123.2" cy="403.5" r="1.65"/><circle cx="162.0" cy="442.3" r="1.65"/><circle cx="141.7" cy="420.8" r="1.65"/><circle cx="186.3" cy="418.1" r="1.65"/><circle cx="167.3" cy="447.3" r="1.65"/><circle cx="161.9" cy="414.6" r="1.65"/><circle cx="159.8" cy="450.5" r="1.65"/><circle cx="168.7" cy="439.2" r="1.65"/><circle cx="100.0" cy="419.0" r="1.65"/><circle cx="102.0" cy="421.0" r="1.65"/><circle cx="119.0" cy="425.0" r="1.65"/><circle cx="125.0" cy="427.0" r="1.65"/><circle cx="128.0" cy="428.5" r="1.65"/><circle cx="131.5" cy="429.0" r="1.65"/><circle cx="160.0" cy="453.0" r="1.65"/><circle cx="163.0" cy="456.0" r="1.65"/><circle cx="166.0" cy="458.0" r="1.65"/><circle cx="168.0" cy="455.0" r="1.65"/></g>
<g fill="#ececec"><circle cx="133.0" cy="399.6" r="1.65"/><circle cx="127.1" cy="396.2" r="1.65"/><circle cx="133.5" cy="394.1" r="1.65"/><circle cx="133.9" cy="401.1" r="1.65"/><circle cx="127.7" cy="397.0" r="1.65"/><circle cx="121.9" cy="408.5" r="1.65"/><circle cx="122.3" cy="407.2" r="1.65"/><circle cx="137.8" cy="399.5" r="1.65"/><circle cx="123.7" cy="405.2" r="1.65"/><circle cx="146.8" cy="397.3" r="1.65"/><circle cx="130.6" cy="405.2" r="1.65"/><circle cx="135.7" cy="409.0" r="1.65"/><circle cx="128.4" cy="403.2" r="1.65"/><circle cx="123.0" cy="409.4" r="1.65"/><circle cx="127.2" cy="392.2" r="1.65"/><circle cx="132.0" cy="400.4" r="1.65"/><circle cx="148.3" cy="399.6" r="1.65"/><circle cx="132.9" cy="403.4" r="1.65"/><circle cx="145.7" cy="400.7" r="1.65"/><circle cx="141.3" cy="403.1" r="1.65"/><circle cx="130.6" cy="401.3" r="1.65"/><circle cx="133.2" cy="397.3" r="1.65"/><circle cx="142.7" cy="395.5" r="1.65"/><circle cx="142.4" cy="404.8" r="1.65"/><circle cx="132.3" cy="397.9" r="1.65"/><circle cx="131.2" cy="402.9" r="1.65"/><circle cx="138.9" cy="402.1" r="1.65"/><circle cx="140.9" cy="398.8" r="1.65"/><circle cx="134.9" cy="394.7" r="1.65"/><circle cx="139.1" cy="401.6" r="1.65"/><circle cx="129.7" cy="405.6" r="1.65"/><circle cx="138.5" cy="389.7" r="1.65"/><circle cx="133.3" cy="395.2" r="1.65"/><circle cx="141.5" cy="411.0" r="1.65"/><circle cx="128.9" cy="401.3" r="1.65"/><circle cx="131.0" cy="402.4" r="1.65"/><circle cx="138.2" cy="406.1" r="1.65"/><circle cx="125.1" cy="407.3" r="1.65"/><circle cx="125.5" cy="402.1" r="1.65"/><circle cx="142.3" cy="403.9" r="1.65"/><circle cx="125.5" cy="398.2" r="1.65"/><circle cx="129.3" cy="400.8" r="1.65"/><circle cx="142.2" cy="395.8" r="1.65"/><circle cx="136.7" cy="403.4" r="1.65"/><circle cx="137.5" cy="402.9" r="1.65"/><circle cx="188.6" cy="455.5" r="1.65"/><circle cx="186.6" cy="455.7" r="1.65"/><circle cx="189.4" cy="448.3" r="1.65"/><circle cx="187.8" cy="453.2" r="1.65"/><circle cx="183.2" cy="451.1" r="1.65"/><circle cx="178.4" cy="452.9" r="1.65"/><circle cx="181.9" cy="455.5" r="1.65"/><circle cx="179.6" cy="458.3" r="1.65"/><circle cx="184.8" cy="453.3" r="1.65"/><circle cx="181.9" cy="451.6" r="1.65"/><circle cx="180.6" cy="452.4" r="1.65"/><circle cx="184.0" cy="453.5" r="1.65"/><circle cx="141.5" cy="392.2" r="1.65"/><circle cx="144.6" cy="393.5" r="1.65"/><circle cx="161.2" cy="394.9" r="1.65"/><circle cx="148.1" cy="388.1" r="1.65"/><circle cx="141.5" cy="387.9" r="1.65"/><circle cx="154.4" cy="390.7" r="1.65"/><circle cx="150.4" cy="391.1" r="1.65"/><circle cx="150.5" cy="397.2" r="1.65"/><circle cx="145.9" cy="392.0" r="1.65"/><circle cx="145.2" cy="395.6" r="1.65"/></g>
<g fill="#ababab"><circle cx="98.4" cy="400.0" r="1.65"/><circle cx="113.3" cy="407.9" r="1.65"/><circle cx="90.7" cy="382.1" r="1.65"/><circle cx="109.0" cy="420.2" r="1.65"/><circle cx="106.2" cy="421.8" r="1.65"/><circle cx="118.7" cy="411.5" r="1.65"/><circle cx="108.1" cy="404.6" r="1.65"/><circle cx="90.0" cy="422.6" r="1.65"/><circle cx="100.5" cy="398.7" r="1.65"/><circle cx="100.1" cy="410.2" r="1.65"/><circle cx="83.5" cy="416.3" r="1.65"/><circle cx="89.3" cy="396.3" r="1.65"/><circle cx="79.4" cy="429.7" r="1.65"/><circle cx="73.8" cy="414.2" r="1.65"/><circle cx="103.5" cy="418.4" r="1.65"/><circle cx="77.8" cy="408.8" r="1.65"/><circle cx="97.0" cy="420.0" r="1.65"/><circle cx="86.0" cy="400.4" r="1.65"/><circle cx="109.0" cy="423.1" r="1.65"/><circle cx="100.2" cy="405.9" r="1.65"/><circle cx="100.7" cy="413.1" r="1.65"/><circle cx="106.7" cy="399.5" r="1.65"/><circle cx="96.6" cy="410.4" r="1.65"/><circle cx="79.5" cy="414.2" r="1.65"/><circle cx="95.5" cy="407.9" r="1.65"/><circle cx="100.5" cy="397.8" r="1.65"/><circle cx="94.2" cy="416.3" r="1.65"/><circle cx="99.0" cy="422.8" r="1.65"/><circle cx="98.3" cy="416.6" r="1.65"/><circle cx="124.7" cy="418.2" r="1.65"/><circle cx="82.8" cy="420.1" r="1.65"/><circle cx="83.2" cy="397.1" r="1.65"/><circle cx="131.5" cy="415.3" r="1.65"/><circle cx="105.0" cy="417.6" r="1.65"/><circle cx="120.4" cy="414.8" r="1.65"/><circle cx="166.9" cy="359.7" r="1.65"/><circle cx="119.9" cy="389.1" r="1.65"/><circle cx="171.5" cy="378.1" r="1.65"/><circle cx="149.1" cy="374.0" r="1.65"/><circle cx="132.6" cy="390.5" r="1.65"/><circle cx="156.9" cy="378.1" r="1.65"/><circle cx="151.8" cy="384.6" r="1.65"/><circle cx="154.1" cy="380.9" r="1.65"/><circle cx="124.0" cy="378.1" r="1.65"/><circle cx="184.4" cy="365.8" r="1.65"/><circle cx="142.7" cy="382.7" r="1.65"/><circle cx="162.2" cy="379.5" r="1.65"/><circle cx="115.9" cy="378.0" r="1.65"/><circle cx="123.7" cy="362.1" r="1.65"/><circle cx="154.9" cy="368.5" r="1.65"/><circle cx="159.6" cy="409.8" r="1.65"/><circle cx="159.0" cy="380.7" r="1.65"/><circle cx="128.9" cy="364.3" r="1.65"/><circle cx="125.9" cy="365.6" r="1.65"/><circle cx="125.3" cy="364.1" r="1.65"/><circle cx="141.2" cy="360.0" r="1.65"/><circle cx="119.5" cy="355.7" r="1.65"/><circle cx="153.2" cy="372.7" r="1.65"/><circle cx="163.5" cy="384.5" r="1.65"/><circle cx="138.9" cy="380.0" r="1.65"/><circle cx="119.1" cy="399.4" r="1.65"/><circle cx="166.5" cy="369.4" r="1.65"/><circle cx="124.1" cy="376.6" r="1.65"/><circle cx="111.3" cy="362.6" r="1.65"/><circle cx="158.5" cy="372.9" r="1.65"/><circle cx="136.2" cy="383.4" r="1.65"/><circle cx="126.3" cy="375.4" r="1.65"/><circle cx="136.0" cy="361.8" r="1.65"/><circle cx="153.3" cy="360.1" r="1.65"/><circle cx="179.2" cy="365.0" r="1.65"/><circle cx="180.8" cy="358.9" r="1.65"/><circle cx="155.9" cy="357.6" r="1.65"/><circle cx="120.9" cy="373.9" r="1.65"/><circle cx="157.2" cy="356.7" r="1.65"/><circle cx="166.3" cy="362.4" r="1.65"/><circle cx="147.4" cy="376.6" r="1.65"/><circle cx="155.7" cy="350.4" r="1.65"/><circle cx="174.1" cy="378.7" r="1.65"/><circle cx="137.3" cy="359.7" r="1.65"/><circle cx="114.5" cy="355.7" r="1.65"/><circle cx="154.8" cy="367.9" r="1.65"/><circle cx="124.6" cy="365.7" r="1.65"/><circle cx="173.2" cy="368.0" r="1.65"/><circle cx="134.5" cy="388.2" r="1.65"/><circle cx="153.3" cy="372.5" r="1.65"/><circle cx="134.1" cy="353.4" r="1.65"/><circle cx="123.9" cy="366.2" r="1.65"/><circle cx="141.0" cy="376.3" r="1.65"/><circle cx="154.9" cy="374.7" r="1.65"/><circle cx="149.0" cy="359.9" r="1.65"/><circle cx="92.1" cy="373.8" r="1.65"/><circle cx="106.6" cy="372.8" r="1.65"/><circle cx="114.7" cy="368.1" r="1.65"/><circle cx="104.7" cy="377.2" r="1.65"/><circle cx="119.4" cy="372.8" r="1.65"/><circle cx="124.0" cy="376.2" r="1.65"/><circle cx="105.8" cy="378.3" r="1.65"/><circle cx="140.6" cy="372.6" r="1.65"/><circle cx="132.0" cy="389.0" r="1.65"/><circle cx="136.0" cy="371.4" r="1.65"/><circle cx="142.2" cy="378.9" r="1.65"/><circle cx="115.0" cy="376.2" r="1.65"/><circle cx="125.2" cy="378.4" r="1.65"/><circle cx="115.9" cy="388.3" r="1.65"/><circle cx="109.3" cy="369.7" r="1.65"/><circle cx="127.5" cy="383.6" r="1.65"/><circle cx="131.1" cy="369.4" r="1.65"/><circle cx="131.0" cy="381.9" r="1.65"/><circle cx="139.2" cy="368.0" r="1.65"/><circle cx="120.6" cy="375.8" r="1.65"/><circle cx="98.9" cy="372.3" r="1.65"/><circle cx="131.5" cy="374.2" r="1.65"/><circle cx="109.3" cy="384.9" r="1.65"/><circle cx="129.9" cy="385.9" r="1.65"/><circle cx="108.5" cy="377.5" r="1.65"/><circle cx="225.3" cy="375.2" r="1.65"/><circle cx="207.5" cy="397.4" r="1.65"/><circle cx="230.6" cy="367.7" r="1.65"/><circle cx="189.0" cy="363.2" r="1.65"/><circle cx="204.9" cy="382.9" r="1.65"/><circle cx="221.2" cy="382.8" r="1.65"/><circle cx="208.0" cy="387.3" r="1.65"/><circle cx="205.4" cy="384.3" r="1.65"/><circle cx="208.6" cy="425.2" r="1.65"/><circle cx="223.2" cy="372.5" r="1.65"/><circle cx="205.0" cy="378.4" r="1.65"/><circle cx="198.6" cy="374.0" r="1.65"/><circle cx="207.6" cy="398.3" r="1.65"/><circle cx="210.7" cy="373.1" r="1.65"/><circle cx="201.6" cy="367.4" r="1.65"/><circle cx="214.3" cy="381.8" r="1.65"/><circle cx="226.3" cy="375.6" r="1.65"/><circle cx="225.6" cy="388.9" r="1.65"/><circle cx="202.1" cy="396.1" r="1.65"/><circle cx="229.0" cy="388.1" r="1.65"/><circle cx="222.6" cy="378.9" r="1.65"/><circle cx="211.3" cy="375.1" r="1.65"/><circle cx="203.7" cy="403.4" r="1.65"/><circle cx="189.2" cy="396.7" r="1.65"/><circle cx="198.7" cy="403.2" r="1.65"/><circle cx="182.0" cy="417.2" r="1.65"/><circle cx="195.1" cy="400.1" r="1.65"/><circle cx="209.7" cy="410.2" r="1.65"/><circle cx="190.9" cy="405.4" r="1.65"/><circle cx="179.2" cy="393.6" r="1.65"/><circle cx="164.9" cy="412.2" r="1.65"/><circle cx="169.2" cy="406.8" r="1.65"/><circle cx="182.0" cy="390.2" r="1.65"/><circle cx="189.7" cy="402.7" r="1.65"/><circle cx="199.3" cy="417.7" r="1.65"/><circle cx="196.3" cy="408.8" r="1.65"/><circle cx="184.8" cy="407.1" r="1.65"/><circle cx="193.8" cy="395.4" r="1.65"/><circle cx="190.8" cy="399.4" r="1.65"/><circle cx="194.3" cy="404.0" r="1.65"/><circle cx="185.9" cy="392.6" r="1.65"/><circle cx="201.0" cy="383.0" r="1.65"/><circle cx="184.6" cy="415.5" r="1.65"/><circle cx="159.5" cy="393.1" r="1.65"/><circle cx="200.3" cy="383.5" r="1.65"/><circle cx="223.2" cy="374.1" r="1.65"/><circle cx="209.2" cy="415.6" r="1.65"/><circle cx="203.0" cy="397.8" r="1.65"/><circle cx="196.3" cy="391.0" r="1.65"/><circle cx="201.7" cy="388.8" r="1.65"/><circle cx="146.2" cy="393.0" r="1.65"/><circle cx="134.4" cy="386.2" r="1.65"/><circle cx="152.3" cy="381.3" r="1.65"/><circle cx="166.3" cy="389.7" r="1.65"/><circle cx="128.8" cy="387.8" r="1.65"/><circle cx="139.1" cy="384.7" r="1.65"/><circle cx="151.1" cy="384.5" r="1.65"/><circle cx="163.5" cy="384.5" r="1.65"/><circle cx="163.7" cy="387.8" r="1.65"/><circle cx="162.0" cy="385.3" r="1.65"/><circle cx="142.9" cy="382.2" r="1.65"/><circle cx="158.1" cy="392.7" r="1.65"/><circle cx="179.7" cy="394.5" r="1.65"/><circle cx="153.5" cy="386.9" r="1.65"/><circle cx="155.4" cy="387.9" r="1.65"/><circle cx="170.5" cy="392.7" r="1.65"/><circle cx="138.3" cy="384.6" r="1.65"/><circle cx="169.1" cy="389.5" r="1.65"/><circle cx="146.8" cy="393.9" r="1.65"/><circle cx="144.6" cy="386.6" r="1.65"/><circle cx="143.5" cy="378.2" r="1.65"/><circle cx="162.1" cy="382.0" r="1.65"/><circle cx="142.0" cy="384.3" r="1.65"/><circle cx="160.2" cy="387.7" r="1.65"/><circle cx="150.2" cy="379.6" r="1.65"/><circle cx="148.8" cy="380.6" r="1.65"/><circle cx="154.3" cy="389.8" r="1.65"/><circle cx="149.8" cy="398.2" r="1.65"/><circle cx="157.4" cy="391.0" r="1.65"/><circle cx="152.0" cy="387.0" r="1.65"/><circle cx="149.6" cy="445.3" r="1.65"/><circle cx="144.2" cy="444.9" r="1.65"/><circle cx="143.6" cy="438.3" r="1.65"/><circle cx="141.0" cy="437.7" r="1.65"/><circle cx="142.2" cy="440.9" r="1.65"/><circle cx="115.9" cy="435.1" r="1.65"/><circle cx="137.4" cy="441.3" r="1.65"/><circle cx="141.4" cy="443.8" r="1.65"/><circle cx="128.1" cy="438.3" r="1.65"/><circle cx="131.4" cy="441.6" r="1.65"/><circle cx="123.8" cy="298.6" r="1.65"/><circle cx="157.2" cy="314.6" r="1.65"/><circle cx="164.3" cy="311.5" r="1.65"/><circle cx="107.4" cy="322.8" r="1.65"/><circle cx="106.5" cy="328.3" r="1.65"/><circle cx="111.6" cy="329.2" r="1.65"/><circle cx="116.5" cy="334.7" r="1.65"/><circle cx="120.7" cy="333.2" r="1.65"/><circle cx="128.0" cy="342.6" r="1.65"/><circle cx="134.4" cy="348.9" r="1.65"/><circle cx="143.0" cy="349.3" r="1.65"/><circle cx="149.7" cy="353.9" r="1.65"/><circle cx="157.6" cy="350.2" r="1.65"/><circle cx="87.3" cy="347.5" r="1.65"/><circle cx="76.4" cy="374.3" r="1.65"/><circle cx="177.4" cy="502.3" r="1.65"/><circle cx="227.5" cy="364.0" r="1.65"/><circle cx="64.3" cy="404.0" r="1.65"/><circle cx="66.5" cy="408.5" r="1.65"/><circle cx="61.4" cy="418.7" r="1.65"/><circle cx="57.7" cy="427.4" r="1.65"/><circle cx="74.5" cy="425.3" r="1.65"/><circle cx="76.7" cy="423.8" r="1.65"/><circle cx="75.3" cy="430.4" r="1.65"/><circle cx="76.0" cy="407.0" r="1.65"/><circle cx="81.1" cy="391.0" r="1.65"/><circle cx="85.5" cy="393.9" r="1.65"/><circle cx="86.9" cy="444.2" r="1.65"/><circle cx="78.2" cy="450.8" r="1.65"/><circle cx="78.2" cy="454.5" r="1.65"/><circle cx="99.3" cy="451.5" r="1.65"/><circle cx="99.3" cy="453.7" r="1.65"/><circle cx="57.0" cy="439.9" r="1.65"/><circle cx="113.9" cy="435.8" r="1.65"/><circle cx="119.7" cy="443.8" r="1.65"/><circle cx="132.8" cy="443.8" r="1.65"/><circle cx="135.0" cy="445.3" r="1.65"/><circle cx="143.8" cy="448.2" r="1.65"/><circle cx="144.5" cy="452.6" r="1.65"/><circle cx="119.0" cy="456.2" r="1.65"/><circle cx="148.2" cy="445.3" r="1.65"/><circle cx="100.7" cy="451.0" r="1.65"/><circle cx="166.0" cy="465.5" r="1.65"/><circle cx="165.3" cy="470.0" r="1.65"/><circle cx="168.2" cy="471.8" r="1.65"/><circle cx="171.9" cy="476.2" r="1.65"/><circle cx="174.8" cy="475.0" r="1.65"/><circle cx="178.5" cy="475.0" r="1.65"/><circle cx="180.0" cy="480.6" r="1.65"/><circle cx="185.8" cy="482.3" r="1.65"/><circle cx="188.7" cy="476.5" r="1.65"/><circle cx="190.1" cy="474.3" r="1.65"/><circle cx="193.8" cy="477.2" r="1.65"/><circle cx="196.4" cy="475.8" r="1.65"/><circle cx="168.5" cy="485.5" r="1.65"/><circle cx="181.1" cy="486.3" r="1.65"/><circle cx="199.6" cy="464.8" r="1.65"/><circle cx="204.0" cy="467.7" r="1.65"/><circle cx="205.8" cy="469.2" r="1.65"/><circle cx="217.9" cy="453.6" r="1.65"/><circle cx="205.5" cy="448.8" r="1.65"/><circle cx="196.7" cy="454.6" r="1.65"/><circle cx="199.2" cy="456.5" r="1.65"/><circle cx="196.7" cy="444.4" r="1.65"/><circle cx="198.2" cy="446.6" r="1.65"/><circle cx="189.4" cy="451.7" r="1.65"/><circle cx="190.1" cy="461.9" r="1.65"/><circle cx="185.0" cy="463.4" r="1.65"/><circle cx="193.5" cy="337.0" r="1.65"/><circle cx="190.7" cy="346.6" r="1.65"/><circle cx="180.0" cy="346.6" r="1.65"/><circle cx="175.5" cy="341.6" r="1.65"/><circle cx="172.6" cy="350.7" r="1.65"/><circle cx="186.9" cy="358.3" r="1.65"/><circle cx="192.6" cy="355.5" r="1.65"/><circle cx="198.8" cy="366.0" r="1.65"/><circle cx="140.0" cy="322.0" r="1.65"/><circle cx="148.0" cy="330.0" r="1.65"/><circle cx="133.0" cy="312.0" r="1.65"/><circle cx="157.0" cy="315.0" r="1.65"/><circle cx="162.0" cy="312.0" r="1.65"/></g>
<g fill="#6cbf45"><circle cx="44.9" cy="447.3" r="1.65"/><circle cx="45.2" cy="459.3" r="1.65"/><circle cx="47.5" cy="436.3" r="1.65"/><circle cx="50.6" cy="439.8" r="1.65"/><circle cx="41.7" cy="450.9" r="1.65"/><circle cx="42.2" cy="456.8" r="1.65"/><circle cx="55.4" cy="437.1" r="1.65"/><circle cx="49.1" cy="448.4" r="1.65"/><circle cx="49.3" cy="442.6" r="1.65"/><circle cx="57.6" cy="446.3" r="1.65"/><circle cx="46.6" cy="451.3" r="1.65"/><circle cx="44.2" cy="452.2" r="1.65"/><circle cx="49.2" cy="436.2" r="1.65"/><circle cx="43.2" cy="457.5" r="1.65"/><circle cx="41.5" cy="456.3" r="1.65"/><circle cx="47.2" cy="450.2" r="1.65"/><circle cx="53.6" cy="442.5" r="1.65"/><circle cx="54.1" cy="443.3" r="1.65"/><circle cx="50.3" cy="438.7" r="1.65"/><circle cx="44.8" cy="437.8" r="1.65"/><circle cx="57.1" cy="440.4" r="1.65"/><circle cx="41.5" cy="448.4" r="1.65"/><circle cx="50.3" cy="431.2" r="1.65"/><circle cx="46.5" cy="447.8" r="1.65"/><circle cx="45.1" cy="459.1" r="1.65"/><circle cx="55.5" cy="444.6" r="1.65"/><circle cx="44.0" cy="456.9" r="1.65"/><circle cx="49.7" cy="434.6" r="1.65"/><circle cx="50.9" cy="451.4" r="1.65"/><circle cx="51.6" cy="430.9" r="1.65"/><circle cx="52.4" cy="442.7" r="1.65"/><circle cx="41.2" cy="455.8" r="1.65"/><circle cx="46.9" cy="456.0" r="1.65"/><circle cx="51.7" cy="448.1" r="1.65"/><circle cx="48.0" cy="449.7" r="1.65"/><circle cx="47.2" cy="451.8" r="1.65"/><circle cx="46.1" cy="440.5" r="1.65"/><circle cx="44.3" cy="456.1" r="1.65"/><circle cx="45.0" cy="439.4" r="1.65"/><circle cx="57.1" cy="439.1" r="1.65"/><circle cx="56.4" cy="436.3" r="1.65"/><circle cx="43.8" cy="452.1" r="1.65"/><circle cx="56.0" cy="436.2" r="1.65"/><circle cx="49.6" cy="448.3" r="1.65"/><circle cx="43.2" cy="457.6" r="1.65"/><circle cx="47.0" cy="433.7" r="1.65"/><circle cx="55.4" cy="448.9" r="1.65"/><circle cx="47.1" cy="441.6" r="1.65"/><circle cx="45.5" cy="453.7" r="1.65"/><circle cx="55.6" cy="444.2" r="1.65"/><circle cx="56.7" cy="449.1" r="1.65"/><circle cx="53.2" cy="437.6" r="1.65"/><circle cx="55.6" cy="442.6" r="1.65"/><circle cx="54.8" cy="434.5" r="1.65"/><circle cx="52.6" cy="430.8" r="1.65"/><circle cx="42.8" cy="452.6" r="1.65"/><circle cx="50.8" cy="442.1" r="1.65"/><circle cx="54.0" cy="435.8" r="1.65"/><circle cx="50.6" cy="446.4" r="1.65"/><circle cx="46.7" cy="434.8" r="1.65"/><circle cx="44.2" cy="449.8" r="1.65"/><circle cx="58.7" cy="443.2" r="1.65"/><circle cx="52.4" cy="452.3" r="1.65"/><circle cx="53.0" cy="449.2" r="1.65"/><circle cx="49.7" cy="447.1" r="1.65"/><circle cx="54.6" cy="438.3" r="1.65"/><circle cx="56.4" cy="443.8" r="1.65"/><circle cx="52.3" cy="442.3" r="1.65"/><circle cx="48.3" cy="439.3" r="1.65"/><circle cx="43.1" cy="443.7" r="1.65"/><circle cx="44.6" cy="456.3" r="1.65"/><circle cx="43.1" cy="458.5" r="1.65"/><circle cx="56.7" cy="441.0" r="1.65"/><circle cx="55.0" cy="446.9" r="1.65"/><circle cx="48.8" cy="453.9" r="1.65"/><circle cx="56.1" cy="435.5" r="1.65"/><circle cx="45.5" cy="442.2" r="1.65"/><circle cx="49.1" cy="443.5" r="1.65"/><circle cx="46.4" cy="438.1" r="1.65"/><circle cx="52.6" cy="435.5" r="1.65"/><circle cx="47.5" cy="451.0" r="1.65"/><circle cx="39.6" cy="452.7" r="1.65"/><circle cx="54.2" cy="441.1" r="1.65"/><circle cx="44.5" cy="445.7" r="1.65"/><circle cx="45.4" cy="454.1" r="1.65"/><circle cx="51.3" cy="438.7" r="1.65"/><circle cx="55.7" cy="447.7" r="1.65"/><circle cx="45.9" cy="443.0" r="1.65"/><circle cx="59.0" cy="442.3" r="1.65"/><circle cx="47.4" cy="435.0" r="1.65"/><circle cx="57.2" cy="446.1" r="1.65"/><circle cx="47.9" cy="432.4" r="1.65"/><circle cx="49.2" cy="451.4" r="1.65"/><circle cx="46.7" cy="434.5" r="1.65"/><circle cx="54.3" cy="439.5" r="1.65"/><circle cx="42.2" cy="452.2" r="1.65"/><circle cx="52.4" cy="439.2" r="1.65"/><circle cx="43.0" cy="451.8" r="1.65"/><circle cx="55.9" cy="435.7" r="1.65"/><circle cx="52.0" cy="440.5" r="1.65"/><circle cx="43.2" cy="453.4" r="1.65"/><circle cx="44.2" cy="451.7" r="1.65"/><circle cx="46.2" cy="449.0" r="1.65"/><circle cx="56.9" cy="442.6" r="1.65"/><circle cx="53.3" cy="435.0" r="1.65"/><circle cx="41.5" cy="450.9" r="1.65"/><circle cx="49.8" cy="448.4" r="1.65"/><circle cx="54.1" cy="446.6" r="1.65"/><circle cx="46.8" cy="455.0" r="1.65"/><circle cx="46.9" cy="456.6" r="1.65"/><circle cx="47.0" cy="451.5" r="1.65"/><circle cx="48.8" cy="453.1" r="1.65"/><circle cx="57.2" cy="440.8" r="1.65"/><circle cx="49.8" cy="444.9" r="1.65"/><circle cx="50.0" cy="444.6" r="1.65"/><circle cx="56.0" cy="437.0" r="1.65"/><circle cx="55.7" cy="443.2" r="1.65"/><circle cx="57.7" cy="435.6" r="1.65"/><circle cx="63.4" cy="445.2" r="1.65"/><circle cx="51.4" cy="452.1" r="1.65"/><circle cx="62.2" cy="441.4" r="1.65"/><circle cx="68.4" cy="442.4" r="1.65"/><circle cx="58.4" cy="455.2" r="1.65"/><circle cx="55.6" cy="441.4" r="1.65"/><circle cx="67.1" cy="435.6" r="1.65"/><circle cx="61.4" cy="444.3" r="1.65"/><circle cx="76.4" cy="436.6" r="1.65"/><circle cx="61.7" cy="446.0" r="1.65"/><circle cx="62.5" cy="434.8" r="1.65"/><circle cx="64.4" cy="442.6" r="1.65"/><circle cx="64.7" cy="448.8" r="1.65"/><circle cx="68.1" cy="444.4" r="1.65"/><circle cx="63.9" cy="435.4" r="1.65"/><circle cx="61.2" cy="443.3" r="1.65"/><circle cx="59.6" cy="442.6" r="1.65"/><circle cx="57.0" cy="451.2" r="1.65"/><circle cx="74.9" cy="439.7" r="1.65"/><circle cx="64.3" cy="415.8" r="1.65"/><circle cx="59.9" cy="422.3" r="1.65"/><circle cx="69.4" cy="426.7" r="1.65"/><circle cx="78.2" cy="435.2" r="1.65"/><circle cx="75.3" cy="435.5" r="1.65"/><circle cx="71.6" cy="439.9" r="1.65"/><circle cx="90.6" cy="423.8" r="1.65"/><circle cx="92.0" cy="409.2" r="1.65"/><circle cx="63.6" cy="431.1" r="1.65"/><circle cx="67.2" cy="447.2" r="1.65"/><circle cx="60.7" cy="451.5" r="1.65"/><circle cx="56.3" cy="448.6" r="1.65"/><circle cx="65.8" cy="438.4" r="1.65"/></g>
<g fill="#86b8ea"><circle cx="108.6" cy="367.9" r="1.65"/><circle cx="103.4" cy="361.0" r="1.65"/><circle cx="99.5" cy="379.5" r="1.65"/><circle cx="99.0" cy="382.3" r="1.65"/><circle cx="104.4" cy="370.7" r="1.65"/><circle cx="95.9" cy="369.9" r="1.65"/><circle cx="100.9" cy="384.7" r="1.65"/><circle cx="102.2" cy="377.0" r="1.65"/><circle cx="98.8" cy="382.9" r="1.65"/><circle cx="102.2" cy="376.5" r="1.65"/><circle cx="97.1" cy="381.5" r="1.65"/><circle cx="96.5" cy="364.2" r="1.65"/><circle cx="102.9" cy="383.0" r="1.65"/><circle cx="97.8" cy="368.7" r="1.65"/><circle cx="95.5" cy="376.8" r="1.65"/><circle cx="105.7" cy="363.9" r="1.65"/><circle cx="101.8" cy="375.1" r="1.65"/><circle cx="94.8" cy="374.8" r="1.65"/><circle cx="97.5" cy="365.9" r="1.65"/><circle cx="98.7" cy="377.2" r="1.65"/><circle cx="107.3" cy="367.0" r="1.65"/><circle cx="99.8" cy="385.0" r="1.65"/><circle cx="99.8" cy="380.6" r="1.65"/><circle cx="107.0" cy="365.8" r="1.65"/><circle cx="103.9" cy="367.0" r="1.65"/><circle cx="96.5" cy="364.2" r="1.65"/><circle cx="108.1" cy="365.0" r="1.65"/><circle cx="98.4" cy="366.2" r="1.65"/><circle cx="107.2" cy="368.6" r="1.65"/><circle cx="97.4" cy="374.3" r="1.65"/><circle cx="95.7" cy="371.5" r="1.65"/><circle cx="102.8" cy="367.8" r="1.65"/><circle cx="95.1" cy="369.3" r="1.65"/><circle cx="93.4" cy="370.8" r="1.65"/><circle cx="99.6" cy="374.9" r="1.65"/><circle cx="98.3" cy="367.2" r="1.65"/><circle cx="106.0" cy="368.0" r="1.65"/><circle cx="98.5" cy="373.8" r="1.65"/><circle cx="97.5" cy="380.1" r="1.65"/><circle cx="94.4" cy="369.2" r="1.65"/><circle cx="99.9" cy="367.5" r="1.65"/><circle cx="106.9" cy="370.1" r="1.65"/><circle cx="99.9" cy="373.2" r="1.65"/><circle cx="106.7" cy="366.4" r="1.65"/><circle cx="97.4" cy="365.1" r="1.65"/><circle cx="106.0" cy="368.9" r="1.65"/><circle cx="96.8" cy="362.6" r="1.65"/><circle cx="103.1" cy="385.8" r="1.65"/><circle cx="107.5" cy="376.4" r="1.65"/><circle cx="100.2" cy="386.9" r="1.65"/><circle cx="104.4" cy="379.3" r="1.65"/><circle cx="104.6" cy="363.9" r="1.65"/><circle cx="97.2" cy="362.3" r="1.65"/><circle cx="103.0" cy="364.7" r="1.65"/><circle cx="95.1" cy="372.5" r="1.65"/><circle cx="99.4" cy="365.8" r="1.65"/><circle cx="94.5" cy="378.0" r="1.65"/><circle cx="98.1" cy="368.6" r="1.65"/><circle cx="101.9" cy="376.8" r="1.65"/><circle cx="99.8" cy="383.9" r="1.65"/><circle cx="99.4" cy="368.7" r="1.65"/><circle cx="105.7" cy="383.2" r="1.65"/><circle cx="107.5" cy="365.1" r="1.65"/><circle cx="96.2" cy="373.0" r="1.65"/><circle cx="103.3" cy="369.3" r="1.65"/><circle cx="102.2" cy="378.7" r="1.65"/><circle cx="106.4" cy="382.5" r="1.65"/><circle cx="99.4" cy="367.8" r="1.65"/><circle cx="109.2" cy="375.4" r="1.65"/><circle cx="97.7" cy="364.2" r="1.65"/><circle cx="106.3" cy="383.4" r="1.65"/><circle cx="102.4" cy="370.9" r="1.65"/><circle cx="102.5" cy="381.8" r="1.65"/><circle cx="107.6" cy="380.9" r="1.65"/><circle cx="101.0" cy="365.3" r="1.65"/><circle cx="104.5" cy="383.0" r="1.65"/><circle cx="94.9" cy="377.7" r="1.65"/><circle cx="103.1" cy="367.7" r="1.65"/><circle cx="94.4" cy="381.6" r="1.65"/><circle cx="98.0" cy="371.8" r="1.65"/><circle cx="95.2" cy="369.4" r="1.65"/><circle cx="95.2" cy="367.4" r="1.65"/><circle cx="102.5" cy="368.6" r="1.65"/><circle cx="104.0" cy="384.8" r="1.65"/><circle cx="102.5" cy="361.3" r="1.65"/><circle cx="98.7" cy="374.7" r="1.65"/><circle cx="103.2" cy="369.7" r="1.65"/><circle cx="100.3" cy="377.4" r="1.65"/><circle cx="100.5" cy="368.2" r="1.65"/><circle cx="99.8" cy="370.9" r="1.65"/><circle cx="97.8" cy="376.7" r="1.65"/><circle cx="101.5" cy="371.6" r="1.65"/><circle cx="104.7" cy="382.4" r="1.65"/><circle cx="103.7" cy="369.7" r="1.65"/><circle cx="106.3" cy="371.9" r="1.65"/><circle cx="99.5" cy="383.3" r="1.65"/><circle cx="101.3" cy="381.2" r="1.65"/><circle cx="94.4" cy="375.1" r="1.65"/><circle cx="94.9" cy="368.3" r="1.65"/><circle cx="98.7" cy="368.2" r="1.65"/><circle cx="100.1" cy="383.0" r="1.65"/><circle cx="101.5" cy="376.4" r="1.65"/><circle cx="94.8" cy="362.2" r="1.65"/><circle cx="108.7" cy="369.9" r="1.65"/><circle cx="108.6" cy="369.6" r="1.65"/><circle cx="103.6" cy="378.4" r="1.65"/><circle cx="94.5" cy="362.4" r="1.65"/><circle cx="100.3" cy="363.9" r="1.65"/><circle cx="97.9" cy="365.8" r="1.65"/><circle cx="98.2" cy="372.8" r="1.65"/><circle cx="86.0" cy="380.0" r="1.65"/><circle cx="83.0" cy="386.0" r="1.65"/><circle cx="88.0" cy="394.0" r="1.65"/><circle cx="105.0" cy="408.0" r="1.65"/><circle cx="112.0" cy="392.0" r="1.65"/><circle cx="110.0" cy="360.0" r="1.65"/><circle cx="101.0" cy="358.0" r="1.65"/><circle cx="115.0" cy="375.0" r="1.65"/><circle cx="91.0" cy="368.0" r="1.65"/><circle cx="116.0" cy="384.0" r="1.65"/></g>
<g fill="#4472c6"><circle cx="94.4" cy="343.7" r="1.65"/><circle cx="96.3" cy="349.6" r="1.65"/><circle cx="95.7" cy="353.7" r="1.65"/><circle cx="95.5" cy="352.4" r="1.65"/><circle cx="98.6" cy="339.5" r="1.65"/><circle cx="95.0" cy="343.6" r="1.65"/><circle cx="96.0" cy="350.8" r="1.65"/><circle cx="96.2" cy="344.2" r="1.65"/><circle cx="98.7" cy="342.7" r="1.65"/><circle cx="98.8" cy="345.1" r="1.65"/><circle cx="96.3" cy="341.2" r="1.65"/><circle cx="93.2" cy="352.6" r="1.65"/><circle cx="97.3" cy="345.2" r="1.65"/><circle cx="93.9" cy="342.3" r="1.65"/><circle cx="96.4" cy="348.3" r="1.65"/><circle cx="95.8" cy="350.1" r="1.65"/><circle cx="101.5" cy="340.9" r="1.65"/><circle cx="93.6" cy="348.4" r="1.65"/><circle cx="95.5" cy="343.4" r="1.65"/><circle cx="96.5" cy="349.8" r="1.65"/><circle cx="100.0" cy="343.9" r="1.65"/><circle cx="100.7" cy="350.1" r="1.65"/><circle cx="93.7" cy="349.6" r="1.65"/><circle cx="98.6" cy="353.4" r="1.65"/><circle cx="93.2" cy="347.8" r="1.65"/><circle cx="95.7" cy="339.4" r="1.65"/><circle cx="93.2" cy="347.8" r="1.65"/><circle cx="95.4" cy="351.0" r="1.65"/><circle cx="96.1" cy="352.9" r="1.65"/><circle cx="99.3" cy="346.4" r="1.65"/><circle cx="94.9" cy="341.6" r="1.65"/><circle cx="94.2" cy="344.0" r="1.65"/><circle cx="95.0" cy="341.0" r="1.65"/><circle cx="96.2" cy="339.9" r="1.65"/><circle cx="97.4" cy="336.5" r="1.65"/><circle cx="103.4" cy="334.7" r="1.65"/><circle cx="83.3" cy="358.3" r="1.65"/><circle cx="85.5" cy="357.5" r="1.65"/><circle cx="88.0" cy="360.0" r="1.65"/><circle cx="90.0" cy="362.5" r="1.65"/><circle cx="86.0" cy="364.0" r="1.65"/><circle cx="108.3" cy="304.0" r="1.65"/><circle cx="76.1" cy="384.7" r="1.65"/><circle cx="76.1" cy="392.4" r="1.65"/><circle cx="80.5" cy="398.0" r="1.65"/><circle cx="100.0" cy="340.0" r="1.65"/><circle cx="88.0" cy="349.0" r="1.65"/></g>
<g fill="#ee7d31"><circle cx="119.5" cy="349.7" r="1.65"/><circle cx="104.8" cy="344.5" r="1.65"/><circle cx="107.8" cy="340.6" r="1.65"/><circle cx="112.1" cy="341.2" r="1.65"/><circle cx="105.9" cy="353.2" r="1.65"/><circle cx="111.2" cy="352.5" r="1.65"/><circle cx="111.9" cy="348.6" r="1.65"/><circle cx="108.9" cy="346.8" r="1.65"/><circle cx="112.1" cy="344.9" r="1.65"/><circle cx="118.7" cy="342.7" r="1.65"/><circle cx="107.2" cy="344.9" r="1.65"/><circle cx="117.9" cy="356.5" r="1.65"/><circle cx="113.7" cy="345.3" r="1.65"/><circle cx="115.3" cy="356.0" r="1.65"/><circle cx="107.6" cy="352.4" r="1.65"/><circle cx="116.5" cy="346.0" r="1.65"/><circle cx="105.8" cy="351.0" r="1.65"/><circle cx="107.0" cy="345.5" r="1.65"/><circle cx="113.2" cy="358.7" r="1.65"/><circle cx="103.9" cy="351.8" r="1.65"/><circle cx="103.5" cy="349.7" r="1.65"/><circle cx="105.3" cy="352.2" r="1.65"/><circle cx="109.9" cy="352.1" r="1.65"/><circle cx="107.9" cy="338.7" r="1.65"/><circle cx="106.5" cy="343.3" r="1.65"/><circle cx="106.1" cy="341.6" r="1.65"/><circle cx="113.3" cy="347.1" r="1.65"/><circle cx="118.7" cy="348.4" r="1.65"/><circle cx="113.3" cy="353.3" r="1.65"/><circle cx="119.2" cy="350.4" r="1.65"/><circle cx="103.7" cy="347.6" r="1.65"/><circle cx="103.6" cy="350.9" r="1.65"/><circle cx="104.2" cy="349.4" r="1.65"/><circle cx="105.8" cy="356.7" r="1.65"/><circle cx="104.8" cy="352.2" r="1.65"/><circle cx="116.4" cy="343.3" r="1.65"/><circle cx="114.3" cy="344.6" r="1.65"/><circle cx="107.9" cy="343.0" r="1.65"/><circle cx="103.3" cy="352.5" r="1.65"/><circle cx="104.4" cy="341.5" r="1.65"/><circle cx="113.1" cy="347.7" r="1.65"/><circle cx="114.1" cy="355.6" r="1.65"/><circle cx="102.0" cy="356.9" r="1.65"/><circle cx="135.5" cy="354.0" r="1.65"/><circle cx="110.6" cy="345.5" r="1.65"/><circle cx="110.4" cy="357.6" r="1.65"/><circle cx="139.5" cy="367.3" r="1.65"/><circle cx="117.7" cy="357.8" r="1.65"/><circle cx="135.8" cy="348.9" r="1.65"/><circle cx="125.9" cy="380.5" r="1.65"/><circle cx="130.9" cy="365.6" r="1.65"/><circle cx="121.9" cy="355.5" r="1.65"/><circle cx="104.0" cy="354.7" r="1.65"/><circle cx="144.7" cy="380.2" r="1.65"/><circle cx="144.8" cy="363.2" r="1.65"/><circle cx="128.7" cy="347.8" r="1.65"/><circle cx="125.8" cy="362.4" r="1.65"/><circle cx="117.0" cy="366.2" r="1.65"/><circle cx="114.2" cy="333.6" r="1.65"/><circle cx="113.8" cy="335.0" r="1.65"/><circle cx="108.8" cy="368.6" r="1.65"/><circle cx="125.2" cy="357.6" r="1.65"/><circle cx="144.2" cy="370.1" r="1.65"/><circle cx="120.9" cy="370.9" r="1.65"/><circle cx="133.4" cy="355.0" r="1.65"/><circle cx="134.2" cy="337.9" r="1.65"/><circle cx="117.0" cy="353.7" r="1.65"/><circle cx="136.5" cy="350.5" r="1.65"/><circle cx="126.2" cy="366.6" r="1.65"/><circle cx="147.8" cy="364.2" r="1.65"/><circle cx="145.8" cy="350.1" r="1.65"/><circle cx="123.7" cy="358.8" r="1.65"/><circle cx="134.6" cy="331.4" r="1.65"/><circle cx="122.6" cy="340.4" r="1.65"/><circle cx="162.2" cy="332.1" r="1.65"/><circle cx="131.2" cy="329.8" r="1.65"/><circle cx="137.4" cy="352.5" r="1.65"/><circle cx="119.2" cy="350.7" r="1.65"/><circle cx="121.8" cy="333.9" r="1.65"/><circle cx="155.0" cy="341.7" r="1.65"/><circle cx="145.1" cy="321.2" r="1.65"/><circle cx="146.5" cy="326.8" r="1.65"/><circle cx="143.4" cy="325.7" r="1.65"/><circle cx="131.4" cy="324.4" r="1.65"/><circle cx="157.7" cy="333.6" r="1.65"/><circle cx="150.1" cy="329.8" r="1.65"/><circle cx="131.0" cy="347.6" r="1.65"/><circle cx="122.5" cy="319.8" r="1.65"/><circle cx="112.0" cy="323.0" r="1.65"/><circle cx="129.8" cy="322.0" r="1.65"/><circle cx="134.7" cy="327.4" r="1.65"/><circle cx="162.1" cy="324.5" r="1.65"/><circle cx="166.2" cy="344.2" r="1.65"/><circle cx="142.0" cy="345.0" r="1.65"/><circle cx="166.4" cy="344.2" r="1.65"/><circle cx="177.4" cy="359.9" r="1.65"/><circle cx="211.3" cy="455.6" r="1.65"/><circle cx="142.3" cy="344.6" r="1.65"/><circle cx="161.3" cy="351.9" r="1.65"/><circle cx="143.8" cy="357.7" r="1.65"/><circle cx="129.9" cy="363.6" r="1.65"/><circle cx="134.3" cy="361.4" r="1.65"/><circle cx="148.2" cy="380.4" r="1.65"/><circle cx="159.9" cy="375.3" r="1.65"/><circle cx="165.7" cy="380.4" r="1.65"/><circle cx="176.0" cy="398.0" r="1.65"/><circle cx="178.0" cy="402.0" r="1.65"/><circle cx="174.0" cy="410.0" r="1.65"/><circle cx="176.0" cy="413.0" r="1.65"/><circle cx="182.0" cy="415.0" r="1.65"/><circle cx="181.0" cy="398.0" r="1.65"/><circle cx="183.0" cy="360.0" r="1.65"/><circle cx="181.0" cy="333.0" r="1.65"/><circle cx="120.0" cy="348.0" r="1.65"/></g>
<g fill="#3e6b26"><circle cx="126.2" cy="380.5" r="1.65"/><circle cx="117.2" cy="388.4" r="1.65"/><circle cx="117.3" cy="374.5" r="1.65"/><circle cx="132.8" cy="378.2" r="1.65"/><circle cx="134.2" cy="370.5" r="1.65"/><circle cx="109.4" cy="383.9" r="1.65"/><circle cx="119.7" cy="386.7" r="1.65"/><circle cx="113.0" cy="372.5" r="1.65"/><circle cx="140.1" cy="375.3" r="1.65"/><circle cx="107.7" cy="372.1" r="1.65"/><circle cx="136.1" cy="373.1" r="1.65"/><circle cx="126.9" cy="386.2" r="1.65"/><circle cx="129.2" cy="384.3" r="1.65"/><circle cx="140.7" cy="379.7" r="1.65"/><circle cx="111.7" cy="370.0" r="1.65"/><circle cx="117.1" cy="370.2" r="1.65"/><circle cx="136.2" cy="379.8" r="1.65"/><circle cx="104.9" cy="387.2" r="1.65"/><circle cx="128.6" cy="377.2" r="1.65"/><circle cx="109.1" cy="377.8" r="1.65"/><circle cx="142.4" cy="380.4" r="1.65"/><circle cx="122.7" cy="381.0" r="1.65"/><circle cx="126.7" cy="381.3" r="1.65"/><circle cx="111.6" cy="370.4" r="1.65"/><circle cx="103.5" cy="386.1" r="1.65"/><circle cx="128.2" cy="378.5" r="1.65"/><circle cx="141.8" cy="371.9" r="1.65"/><circle cx="107.9" cy="370.7" r="1.65"/><circle cx="124.4" cy="373.7" r="1.65"/><circle cx="122.6" cy="382.8" r="1.65"/><circle cx="116.8" cy="382.3" r="1.65"/><circle cx="103.8" cy="379.6" r="1.65"/><circle cx="113.1" cy="373.8" r="1.65"/><circle cx="122.3" cy="378.7" r="1.65"/><circle cx="138.2" cy="377.3" r="1.65"/><circle cx="105.1" cy="383.1" r="1.65"/><circle cx="112.6" cy="387.3" r="1.65"/><circle cx="112.1" cy="373.8" r="1.65"/><circle cx="108.9" cy="374.0" r="1.65"/><circle cx="128.8" cy="373.1" r="1.65"/><circle cx="105.1" cy="380.5" r="1.65"/><circle cx="134.6" cy="369.5" r="1.65"/><circle cx="121.2" cy="368.6" r="1.65"/><circle cx="103.7" cy="375.6" r="1.65"/><circle cx="115.3" cy="387.1" r="1.65"/><circle cx="103.6" cy="381.9" r="1.65"/><circle cx="134.5" cy="376.6" r="1.65"/><circle cx="124.5" cy="372.7" r="1.65"/><circle cx="113.9" cy="368.2" r="1.65"/><circle cx="108.9" cy="383.7" r="1.65"/><circle cx="122.7" cy="378.8" r="1.65"/><circle cx="115.7" cy="370.7" r="1.65"/><circle cx="137.4" cy="369.8" r="1.65"/><circle cx="115.7" cy="384.3" r="1.65"/><circle cx="110.5" cy="379.1" r="1.65"/><circle cx="126.1" cy="378.5" r="1.65"/><circle cx="136.3" cy="368.1" r="1.65"/><circle cx="126.5" cy="385.2" r="1.65"/><circle cx="105.2" cy="379.6" r="1.65"/><circle cx="121.9" cy="376.3" r="1.65"/><circle cx="126.1" cy="381.4" r="1.65"/><circle cx="131.6" cy="373.2" r="1.65"/><circle cx="109.3" cy="368.6" r="1.65"/><circle cx="114.5" cy="369.7" r="1.65"/><circle cx="132.4" cy="382.9" r="1.65"/><circle cx="129.3" cy="375.8" r="1.65"/><circle cx="122.9" cy="373.0" r="1.65"/><circle cx="116.8" cy="380.2" r="1.65"/><circle cx="125.5" cy="357.7" r="1.65"/><circle cx="135.0" cy="362.8" r="1.65"/><circle cx="139.4" cy="365.0" r="1.65"/><circle cx="148.2" cy="361.4" r="1.65"/><circle cx="151.0" cy="367.2" r="1.65"/><circle cx="159.9" cy="357.0" r="1.65"/><circle cx="162.8" cy="361.4" r="1.65"/><circle cx="159.1" cy="361.4" r="1.65"/><circle cx="156.2" cy="370.1" r="1.65"/><circle cx="152.6" cy="378.2" r="1.65"/><circle cx="161.3" cy="378.2" r="1.65"/><circle cx="150.4" cy="383.3" r="1.65"/><circle cx="151.1" cy="388.4" r="1.65"/><circle cx="156.2" cy="394.2" r="1.65"/><circle cx="160.6" cy="356.6" r="1.65"/><circle cx="173.0" cy="365.0" r="1.65"/><circle cx="165.0" cy="376.7" r="1.65"/><circle cx="172.3" cy="397.2" r="1.65"/><circle cx="175.9" cy="405.2" r="1.65"/><circle cx="152.6" cy="405.9" r="1.65"/><circle cx="147.4" cy="396.4" r="1.65"/><circle cx="160.6" cy="401.5" r="1.65"/><circle cx="76.6" cy="402.6" r="1.65"/><circle cx="84.3" cy="405.0" r="1.65"/><circle cx="86.8" cy="400.0" r="1.65"/><circle cx="98.3" cy="392.4" r="1.65"/><circle cx="97.0" cy="372.0" r="1.65"/><circle cx="99.0" cy="378.0" r="1.65"/><circle cx="182.0" cy="434.0" r="1.65"/><circle cx="170.0" cy="440.0" r="1.65"/><circle cx="164.0" cy="413.0" r="1.65"/><circle cx="160.0" cy="418.0" r="1.65"/><circle cx="156.0" cy="420.0" r="1.65"/><circle cx="171.0" cy="411.0" r="1.65"/></g>
<g fill="#ffc10a"><circle cx="185.9" cy="396.0" r="1.65"/><circle cx="163.4" cy="392.8" r="1.65"/><circle cx="191.8" cy="392.8" r="1.65"/><circle cx="162.4" cy="403.3" r="1.65"/><circle cx="197.4" cy="408.3" r="1.65"/><circle cx="208.1" cy="411.4" r="1.65"/><circle cx="177.8" cy="402.9" r="1.65"/><circle cx="174.0" cy="390.1" r="1.65"/><circle cx="171.1" cy="386.9" r="1.65"/><circle cx="172.9" cy="390.9" r="1.65"/><circle cx="196.3" cy="391.8" r="1.65"/><circle cx="162.5" cy="397.8" r="1.65"/><circle cx="170.9" cy="407.1" r="1.65"/><circle cx="172.0" cy="402.5" r="1.65"/><circle cx="169.5" cy="399.9" r="1.65"/><circle cx="206.8" cy="393.6" r="1.65"/><circle cx="188.5" cy="398.4" r="1.65"/><circle cx="205.5" cy="394.9" r="1.65"/><circle cx="197.0" cy="397.4" r="1.65"/><circle cx="205.3" cy="389.8" r="1.65"/><circle cx="186.1" cy="402.2" r="1.65"/><circle cx="202.9" cy="384.0" r="1.65"/><circle cx="179.6" cy="399.6" r="1.65"/><circle cx="191.8" cy="388.0" r="1.65"/><circle cx="189.4" cy="407.3" r="1.65"/><circle cx="199.6" cy="390.9" r="1.65"/><circle cx="183.8" cy="393.4" r="1.65"/><circle cx="180.9" cy="395.7" r="1.65"/><circle cx="164.2" cy="390.2" r="1.65"/><circle cx="205.4" cy="415.7" r="1.65"/><circle cx="181.0" cy="383.6" r="1.65"/><circle cx="193.8" cy="414.5" r="1.65"/><circle cx="186.6" cy="414.8" r="1.65"/><circle cx="186.9" cy="391.5" r="1.65"/><circle cx="183.7" cy="385.3" r="1.65"/><circle cx="179.5" cy="397.3" r="1.65"/><circle cx="211.0" cy="400.1" r="1.65"/><circle cx="185.6" cy="398.3" r="1.65"/><circle cx="167.0" cy="390.4" r="1.65"/><circle cx="175.3" cy="385.2" r="1.65"/><circle cx="205.6" cy="400.1" r="1.65"/><circle cx="192.5" cy="414.0" r="1.65"/><circle cx="186.7" cy="392.7" r="1.65"/><circle cx="188.7" cy="400.5" r="1.65"/><circle cx="176.1" cy="391.1" r="1.65"/><circle cx="179.3" cy="408.7" r="1.65"/><circle cx="172.7" cy="392.5" r="1.65"/><circle cx="166.6" cy="396.7" r="1.65"/><circle cx="184.8" cy="368.7" r="1.65"/><circle cx="206.0" cy="371.3" r="1.65"/><circle cx="218.4" cy="373.5" r="1.65"/><circle cx="227.2" cy="364.6" r="1.65"/><circle cx="223.5" cy="384.0" r="1.65"/><circle cx="216.2" cy="409.9" r="1.65"/><circle cx="220.6" cy="409.9" r="1.65"/><circle cx="227.2" cy="415.6" r="1.65"/><circle cx="181.9" cy="426.6" r="1.65"/><circle cx="183.4" cy="430.7" r="1.65"/><circle cx="199.4" cy="441.3" r="1.65"/><circle cx="183.4" cy="443.8" r="1.65"/><circle cx="96.0" cy="371.0" r="1.65"/><circle cx="170.2" cy="380.4" r="1.65"/><circle cx="163.6" cy="385.2" r="1.65"/><circle cx="198.7" cy="406.6" r="1.65"/><circle cx="203.1" cy="402.3" r="1.65"/><circle cx="185.5" cy="402.6" r="1.65"/><circle cx="179.0" cy="397.2" r="1.65"/><circle cx="174.6" cy="401.5" r="1.65"/><circle cx="192.8" cy="405.2" r="1.65"/><circle cx="205.3" cy="410.9" r="1.65"/><circle cx="204.5" cy="414.6" r="1.65"/><circle cx="208.2" cy="414.6" r="1.65"/><circle cx="212.0" cy="395.0" r="1.65"/><circle cx="215.0" cy="398.0" r="1.65"/><circle cx="220.0" cy="392.0" r="1.65"/><circle cx="196.0" cy="376.0" r="1.65"/><circle cx="190.0" cy="380.0" r="1.65"/><circle cx="203.0" cy="381.0" r="1.65"/><circle cx="228.4" cy="399.5" r="1.65"/><circle cx="217.6" cy="418.4" r="1.65"/><circle cx="208.7" cy="401.9" r="1.65"/><circle cx="212.0" cy="392.5" r="1.65"/><circle cx="216.6" cy="408.7" r="1.65"/><circle cx="209.4" cy="386.1" r="1.65"/><circle cx="204.8" cy="397.4" r="1.65"/><circle cx="212.8" cy="396.6" r="1.65"/><circle cx="208.5" cy="388.0" r="1.65"/><circle cx="223.3" cy="390.1" r="1.65"/><circle cx="220.4" cy="397.8" r="1.65"/><circle cx="213.5" cy="374.8" r="1.65"/><circle cx="222.9" cy="393.9" r="1.65"/><circle cx="222.9" cy="369.9" r="1.65"/></g>
<g fill="#c99611"><circle cx="175.2" cy="461.7" r="1.65"/><circle cx="181.5" cy="470.1" r="1.65"/><circle cx="181.6" cy="462.1" r="1.65"/><circle cx="174.2" cy="459.7" r="1.65"/><circle cx="170.6" cy="462.3" r="1.65"/><circle cx="183.7" cy="459.7" r="1.65"/><circle cx="184.6" cy="459.5" r="1.65"/><circle cx="174.2" cy="452.9" r="1.65"/><circle cx="182.7" cy="461.3" r="1.65"/><circle cx="181.1" cy="455.7" r="1.65"/><circle cx="170.5" cy="457.7" r="1.65"/><circle cx="185.1" cy="470.4" r="1.65"/><circle cx="179.4" cy="452.1" r="1.65"/><circle cx="177.0" cy="463.8" r="1.65"/><circle cx="173.8" cy="460.1" r="1.65"/><circle cx="175.8" cy="452.0" r="1.65"/><circle cx="171.1" cy="457.6" r="1.65"/><circle cx="186.0" cy="471.8" r="1.65"/><circle cx="183.2" cy="456.1" r="1.65"/><circle cx="184.8" cy="469.7" r="1.65"/><circle cx="175.0" cy="453.1" r="1.65"/><circle cx="171.5" cy="459.8" r="1.65"/><circle cx="176.9" cy="458.5" r="1.65"/><circle cx="181.1" cy="457.8" r="1.65"/><circle cx="181.0" cy="469.7" r="1.65"/><circle cx="184.3" cy="470.3" r="1.65"/><circle cx="174.4" cy="456.6" r="1.65"/><circle cx="171.3" cy="456.1" r="1.65"/><circle cx="183.6" cy="468.4" r="1.65"/><circle cx="174.3" cy="468.6" r="1.65"/><circle cx="180.1" cy="466.4" r="1.65"/><circle cx="179.4" cy="462.8" r="1.65"/><circle cx="180.0" cy="453.1" r="1.65"/><circle cx="170.2" cy="458.4" r="1.65"/><circle cx="179.1" cy="456.0" r="1.65"/><circle cx="172.3" cy="460.7" r="1.65"/><circle cx="176.6" cy="456.4" r="1.65"/><circle cx="169.9" cy="461.5" r="1.65"/><circle cx="173.4" cy="458.1" r="1.65"/><circle cx="185.4" cy="469.3" r="1.65"/><circle cx="174.0" cy="466.6" r="1.65"/><circle cx="179.4" cy="461.2" r="1.65"/><circle cx="174.7" cy="456.9" r="1.65"/><circle cx="170.6" cy="465.5" r="1.65"/><circle cx="172.7" cy="460.1" r="1.65"/><circle cx="179.8" cy="463.7" r="1.65"/><circle cx="173.1" cy="465.4" r="1.65"/><circle cx="176.0" cy="463.1" r="1.65"/><circle cx="176.4" cy="451.9" r="1.65"/><circle cx="185.2" cy="466.6" r="1.65"/><circle cx="174.2" cy="453.3" r="1.65"/><circle cx="174.7" cy="457.8" r="1.65"/><circle cx="172.4" cy="456.4" r="1.65"/><circle cx="174.4" cy="470.6" r="1.65"/><circle cx="177.3" cy="469.7" r="1.65"/><circle cx="169.9" cy="454.5" r="1.65"/><circle cx="170.3" cy="462.4" r="1.65"/><circle cx="174.4" cy="454.7" r="1.65"/><circle cx="180.3" cy="464.6" r="1.65"/><circle cx="172.5" cy="462.9" r="1.65"/><circle cx="177.4" cy="470.3" r="1.65"/><circle cx="170.3" cy="455.6" r="1.65"/><circle cx="184.6" cy="473.2" r="1.65"/><circle cx="175.1" cy="468.6" r="1.65"/><circle cx="170.3" cy="461.0" r="1.65"/><circle cx="180.7" cy="463.7" r="1.65"/><circle cx="180.6" cy="460.0" r="1.65"/><circle cx="185.4" cy="467.1" r="1.65"/><circle cx="177.0" cy="456.8" r="1.65"/><circle cx="171.7" cy="457.6" r="1.65"/><circle cx="175.5" cy="451.9" r="1.65"/><circle cx="179.0" cy="451.6" r="1.65"/><circle cx="179.2" cy="465.5" r="1.65"/><circle cx="172.0" cy="456.3" r="1.65"/><circle cx="182.6" cy="458.1" r="1.65"/><circle cx="174.8" cy="466.6" r="1.65"/><circle cx="184.9" cy="471.2" r="1.65"/><circle cx="174.3" cy="462.7" r="1.65"/><circle cx="176.6" cy="466.2" r="1.65"/><circle cx="182.2" cy="454.2" r="1.65"/><circle cx="187.7" cy="467.2" r="1.65"/><circle cx="171.0" cy="449.0" r="1.65"/><circle cx="174.0" cy="447.5" r="1.65"/></g>
<g fill="#a3521c"><circle cx="117.2" cy="414.4" r="1.65"/><circle cx="116.7" cy="410.2" r="1.65"/><circle cx="122.3" cy="418.9" r="1.65"/><circle cx="118.1" cy="417.6" r="1.65"/><circle cx="126.1" cy="414.9" r="1.65"/><circle cx="129.6" cy="417.1" r="1.65"/><circle cx="126.4" cy="421.5" r="1.65"/><circle cx="119.2" cy="414.9" r="1.65"/><circle cx="124.7" cy="415.3" r="1.65"/><circle cx="126.3" cy="416.9" r="1.65"/><circle cx="127.1" cy="420.7" r="1.65"/><circle cx="128.0" cy="421.1" r="1.65"/><circle cx="124.6" cy="414.3" r="1.65"/><circle cx="124.5" cy="421.7" r="1.65"/><circle cx="121.1" cy="417.0" r="1.65"/><circle cx="117.9" cy="416.3" r="1.65"/><circle cx="132.2" cy="421.4" r="1.65"/><circle cx="117.2" cy="418.9" r="1.65"/><circle cx="129.5" cy="420.4" r="1.65"/><circle cx="131.2" cy="422.8" r="1.65"/><circle cx="115.6" cy="418.2" r="1.65"/><circle cx="112.1" cy="417.8" r="1.65"/><circle cx="126.3" cy="419.7" r="1.65"/><circle cx="110.6" cy="413.0" r="1.65"/><circle cx="125.4" cy="421.0" r="1.65"/><circle cx="128.1" cy="421.4" r="1.65"/><circle cx="116.4" cy="414.6" r="1.65"/><circle cx="124.5" cy="417.6" r="1.65"/><circle cx="127.9" cy="420.5" r="1.65"/><circle cx="117.0" cy="411.6" r="1.65"/><circle cx="127.1" cy="418.9" r="1.65"/><circle cx="116.4" cy="410.7" r="1.65"/></g>
<g fill="#b23ec0"><circle cx="107.3" cy="396.0" r="1.65"/><circle cx="109.0" cy="398.0" r="1.65"/><circle cx="111.5" cy="397.0" r="1.65"/><circle cx="108.5" cy="400.0" r="1.65"/><circle cx="110.0" cy="401.5" r="1.65"/><circle cx="112.0" cy="399.5" r="1.65"/><circle cx="100.9" cy="405.7" r="1.65"/><circle cx="121.9" cy="395.7" r="1.65"/><circle cx="135.8" cy="386.2" r="1.65"/><circle cx="100.7" cy="405.9" r="1.65"/></g>
<g fill="#c00000"><circle cx="135.8" cy="388.0" r="1.65"/><circle cx="138.0" cy="386.5" r="1.65"/><circle cx="140.0" cy="389.0" r="1.65"/><circle cx="142.0" cy="391.0" r="1.65"/><circle cx="137.0" cy="391.5" r="1.65"/><circle cx="139.5" cy="393.5" r="1.65"/><circle cx="141.5" cy="387.0" r="1.65"/><circle cx="129.2" cy="394.2" r="1.65"/><circle cx="132.8" cy="396.9" r="1.65"/><circle cx="100.8" cy="410.7" r="1.65"/><circle cx="109.6" cy="421.6" r="1.65"/><circle cx="126.0" cy="389.0" r="1.65"/></g>
<line x1="28.3" y1="285" x2="28.3" y2="516.2" stroke="#888" stroke-width="1"/>
<line x1="28.3" y1="516.2" x2="239.8" y2="516.2" stroke="#888" stroke-width="1"/>
<line x1="24.6" y1="311.2" x2="28.3" y2="311.2" stroke="#888" stroke-width="1"/>
<text x="22.6" y="315.2" font-size="11.3" text-anchor="end" fill="#111">10</text>
<line x1="24.6" y1="361.2" x2="28.3" y2="361.2" stroke="#888" stroke-width="1"/>
<text x="22.6" y="365.2" font-size="11.3" text-anchor="end" fill="#111">5</text>
<line x1="24.6" y1="411.1" x2="28.3" y2="411.1" stroke="#888" stroke-width="1"/>
<text x="22.6" y="415.1" font-size="11.3" text-anchor="end" fill="#111">0</text>
<line x1="24.6" y1="461.1" x2="28.3" y2="461.1" stroke="#888" stroke-width="1"/>
<text x="22.6" y="465.1" font-size="11.3" text-anchor="end" fill="#111">-5</text>
<line x1="24.6" y1="511.0" x2="28.3" y2="511.0" stroke="#888" stroke-width="1"/>
<text x="22.6" y="515.0" font-size="11.3" text-anchor="end" fill="#111">-10</text>
<line x1="40.3" y1="516.2" x2="40.3" y2="519.8" stroke="#888" stroke-width="1"/>
<text x="46.6" y="528.9" font-size="11.3" text-anchor="end" fill="#111">-10</text>
<line x1="87.8" y1="516.2" x2="87.8" y2="519.8" stroke="#888" stroke-width="1"/>
<text x="90.9" y="528.9" font-size="11.3" text-anchor="end" fill="#111">-5</text>
<line x1="135.3" y1="516.2" x2="135.3" y2="519.8" stroke="#888" stroke-width="1"/>
<text x="138.4" y="528.9" font-size="11.3" text-anchor="end" fill="#111">0</text>
<line x1="182.8" y1="516.2" x2="182.8" y2="519.8" stroke="#888" stroke-width="1"/>
<text x="185.9" y="528.9" font-size="11.3" text-anchor="end" fill="#111">5</text>
<line x1="230.3" y1="516.2" x2="230.3" y2="519.8" stroke="#888" stroke-width="1"/>
<text x="236.6" y="528.9" font-size="11.3" text-anchor="end" fill="#111">10</text>
<text x="135.3" y="545.2" font-size="11.3" text-anchor="middle" fill="#111">PC1 (57.9%)</text>
<text transform="translate(8.4,412) rotate(-90)" font-size="11.3" text-anchor="middle" fill="#1a1a1a">PC2 (24.5%)</text>
<text x="245.4" y="294.2" font-size="11.3" fill="#111">compartment</text>
<circle cx="248.2" cy="313.20" r="2.6" fill="#ababab" stroke="#6a6a6a" stroke-width="0.8"/>
<text x="255.2" y="317.10" font-size="11.3" fill="#111">undefined</text>
<circle cx="248.2" cy="329.33" r="2.6" fill="#b9c8de" stroke="#727c89" stroke-width="0.8"/>
<text x="255.2" y="333.23" font-size="11.3" fill="#111">nucleus</text>
<circle cx="248.2" cy="345.46" r="2.6" fill="#ececec" stroke="#929292" stroke-width="0.8"/>
<text x="255.2" y="349.36" font-size="11.3" fill="#111">cytosol</text>
<circle cx="248.2" cy="361.59" r="2.6" fill="#6cbf45" stroke="#4d8931" stroke-width="0.8"/>
<text x="255.2" y="365.49" font-size="11.3" fill="#111">mitochondria</text>
<circle cx="248.2" cy="377.72" r="2.6" fill="#ee7d31" stroke="#ab5a23" stroke-width="0.8"/>
<text x="255.2" y="381.62" font-size="11.3" fill="#111">vacuole/endo</text>
<circle cx="248.2" cy="393.85" r="2.6" fill="#3e6b26" stroke="#2c4d1b" stroke-width="0.8"/>
<text x="255.2" y="397.75" font-size="11.3" fill="#111">PM</text>
<circle cx="248.2" cy="409.98" r="2.6" fill="#ffc10a" stroke="#b78a07" stroke-width="0.8"/>
<text x="255.2" y="413.88" font-size="11.3" fill="#111">Golgi</text>
<circle cx="248.2" cy="426.11" r="2.6" fill="#86b8ea" stroke="#6084a8" stroke-width="0.8"/>
<text x="255.2" y="430.01" font-size="11.3" fill="#111">ER</text>
<circle cx="248.2" cy="442.24" r="2.6" fill="#c99611" stroke="#906c0c" stroke-width="0.8"/>
<text x="255.2" y="446.14" font-size="11.3" fill="#111">ribosome</text>
<circle cx="248.2" cy="458.37" r="2.6" fill="#4472c6" stroke="#30528e" stroke-width="0.8"/>
<text x="255.2" y="462.27" font-size="11.3" fill="#111">NE</text>
<circle cx="248.2" cy="474.50" r="2.6" fill="#a3521c" stroke="#753b14" stroke-width="0.8"/>
<text x="255.2" y="478.40" font-size="11.3" fill="#111">proteasome</text>
<circle cx="248.2" cy="490.63" r="2.6" fill="#b23ec0" stroke="#802c8a" stroke-width="0.8"/>
<text x="255.2" y="494.53" font-size="11.3" fill="#111">lipid droplets</text>
<circle cx="248.2" cy="506.76" r="2.6" fill="#c00000" stroke="#8a0000" stroke-width="0.8"/>
<text x="255.2" y="510.66" font-size="11.3" fill="#111">peroxisomes</text>
<text x="351.1" y="278.4" font-size="18.5" font-weight="bold" fill="#111">c</text>
<text x="379.0" y="276.6" font-size="12.5" fill="#111">organelle predictions</text>
<text x="553.7" y="294.2" font-size="11.3" text-anchor="middle" fill="#111">number of proteins</text>
<line x1="461.24" y1="320.5" x2="461.24" y2="515.5" stroke="#d9d9d9" stroke-width="0.8"/>
<line x1="497.08" y1="320.5" x2="497.08" y2="515.5" stroke="#d9d9d9" stroke-width="0.8"/>
<line x1="532.92" y1="320.5" x2="532.92" y2="515.5" stroke="#d9d9d9" stroke-width="0.8"/>
<line x1="568.76" y1="320.5" x2="568.76" y2="515.5" stroke="#d9d9d9" stroke-width="0.8"/>
<line x1="604.60" y1="320.5" x2="604.60" y2="515.5" stroke="#d9d9d9" stroke-width="0.8"/>
<line x1="640.44" y1="320.5" x2="640.44" y2="515.5" stroke="#d9d9d9" stroke-width="0.8"/>
<line x1="676.28" y1="320.5" x2="676.28" y2="515.5" stroke="#d9d9d9" stroke-width="0.8"/>
<text x="425.40" y="315.6" font-size="11.3" text-anchor="middle" fill="#111">0</text>
<text x="461.24" y="315.6" font-size="11.3" text-anchor="middle" fill="#111">100</text>
<text x="497.08" y="315.6" font-size="11.3" text-anchor="middle" fill="#111">200</text>
<text x="532.92" y="315.6" font-size="11.3" text-anchor="middle" fill="#111">300</text>
<text x="568.76" y="315.6" font-size="11.3" text-anchor="middle" fill="#111">400</text>
<text x="604.60" y="315.6" font-size="11.3" text-anchor="middle" fill="#111">500</text>
<text x="640.44" y="315.6" font-size="11.3" text-anchor="middle" fill="#111">600</text>
<text x="676.28" y="315.6" font-size="11.3" text-anchor="middle" fill="#111">700</text>
<text x="351.6" y="332.00" font-size="11.3" fill="#111">nucleus</text>
<rect x="425.40" y="324.00" width="206.80" height="9.3" fill="#8c8c8c" stroke="#333" stroke-width="0.7"/>
<rect x="632.20" y="324.00" width="12.54" height="9.3" fill="#d2d2d2" stroke="#333" stroke-width="0.7"/>
<rect x="644.74" y="324.00" width="30.46" height="9.3" fill="#ffffff" stroke="#333" stroke-width="0.7"/>
<text x="351.6" y="348.15" font-size="11.3" fill="#111">cytosol</text>
<rect x="425.40" y="340.15" width="156.98" height="9.3" fill="#8c8c8c" stroke="#333" stroke-width="0.7"/>
<rect x="582.38" y="340.15" width="7.88" height="9.3" fill="#d2d2d2" stroke="#333" stroke-width="0.7"/>
<rect x="590.26" y="340.15" width="23.30" height="9.3" fill="#ffffff" stroke="#333" stroke-width="0.7"/>
<text x="351.6" y="364.30" font-size="11.3" fill="#111">mitochondria</text>
<rect x="425.40" y="356.30" width="140.85" height="9.3" fill="#8c8c8c" stroke="#333" stroke-width="0.7"/>
<rect x="566.25" y="356.30" width="1.08" height="9.3" fill="#d2d2d2" stroke="#333" stroke-width="0.7"/>
<rect x="567.33" y="356.30" width="2.51" height="9.3" fill="#ffffff" stroke="#333" stroke-width="0.7"/>
<text x="351.6" y="380.45" font-size="11.3" fill="#111">vacuole/endo</text>
<rect x="425.40" y="372.45" width="62.36" height="9.3" fill="#8c8c8c" stroke="#333" stroke-width="0.7"/>
<rect x="487.76" y="372.45" width="12.54" height="9.3" fill="#d2d2d2" stroke="#333" stroke-width="0.7"/>
<rect x="500.31" y="372.45" width="31.54" height="9.3" fill="#ffffff" stroke="#333" stroke-width="0.7"/>
<text x="351.6" y="396.60" font-size="11.3" fill="#111">PM</text>
<rect x="425.40" y="388.60" width="57.34" height="9.3" fill="#8c8c8c" stroke="#333" stroke-width="0.7"/>
<rect x="482.74" y="388.60" width="17.56" height="9.3" fill="#d2d2d2" stroke="#333" stroke-width="0.7"/>
<rect x="500.31" y="388.60" width="26.16" height="9.3" fill="#ffffff" stroke="#333" stroke-width="0.7"/>
<text x="351.6" y="412.75" font-size="11.3" fill="#111">Golgi</text>
<rect x="425.40" y="404.75" width="51.61" height="9.3" fill="#8c8c8c" stroke="#333" stroke-width="0.7"/>
<rect x="477.01" y="404.75" width="17.92" height="9.3" fill="#d2d2d2" stroke="#333" stroke-width="0.7"/>
<rect x="494.93" y="404.75" width="19.71" height="9.3" fill="#ffffff" stroke="#333" stroke-width="0.7"/>
<text x="351.6" y="428.90" font-size="11.3" fill="#111">ER</text>
<rect x="425.40" y="420.90" width="78.13" height="9.3" fill="#8c8c8c" stroke="#333" stroke-width="0.7"/>
<rect x="503.53" y="420.90" width="2.15" height="9.3" fill="#d2d2d2" stroke="#333" stroke-width="0.7"/>
<rect x="505.68" y="420.90" width="7.88" height="9.3" fill="#ffffff" stroke="#333" stroke-width="0.7"/>
<text x="351.6" y="445.05" font-size="11.3" fill="#111">ribosome</text>
<rect x="425.40" y="437.05" width="46.59" height="9.3" fill="#8c8c8c" stroke="#333" stroke-width="0.7"/>
<rect x="471.99" y="437.05" width="2.51" height="9.3" fill="#d2d2d2" stroke="#333" stroke-width="0.7"/>
<rect x="474.50" y="437.05" width="6.09" height="9.3" fill="#ffffff" stroke="#333" stroke-width="0.7"/>
<text x="351.6" y="461.20" font-size="11.3" fill="#111">NE</text>
<rect x="425.40" y="453.20" width="16.84" height="9.3" fill="#8c8c8c" stroke="#333" stroke-width="0.7"/>
<rect x="442.24" y="453.20" width="1.79" height="9.3" fill="#d2d2d2" stroke="#333" stroke-width="0.7"/>
<rect x="444.04" y="453.20" width="1.43" height="9.3" fill="#ffffff" stroke="#333" stroke-width="0.7"/>
<text x="351.6" y="477.35" font-size="11.3" fill="#111">proteasome</text>
<rect x="425.40" y="469.35" width="7.17" height="9.3" fill="#8c8c8c" stroke="#333" stroke-width="0.7"/>
<rect x="432.57" y="469.35" width="3.58" height="9.3" fill="#d2d2d2" stroke="#333" stroke-width="0.7"/>
<rect x="436.15" y="469.35" width="2.51" height="9.3" fill="#ffffff" stroke="#333" stroke-width="0.7"/>
<text x="351.6" y="493.50" font-size="11.3" fill="#111">lipid droplets</text>
<rect x="425.40" y="485.50" width="6.09" height="9.3" fill="#ffffff" stroke="#333" stroke-width="0.7"/>
<text x="351.6" y="509.65" font-size="11.3" fill="#111">peroxisomes</text>
<rect x="425.40" y="501.65" width="1.08" height="9.3" fill="#8c8c8c" stroke="#333" stroke-width="0.7"/>
<rect x="426.48" y="501.65" width="3.23" height="9.3" fill="#d2d2d2" stroke="#333" stroke-width="0.7"/>
<line x1="425.4" y1="320.6" x2="425.4" y2="515.5" stroke="#111" stroke-width="1.3"/>
<rect x="538.8" y="441.1" width="130.6" height="68.4" fill="#fff" stroke="#999" stroke-width="0.9"/>
<text x="545.0" y="453.9" font-size="11.3" fill="#111">prediction confidence</text>
<rect x="545.6" y="463.60" width="9.2" height="9.2" fill="#8c8c8c" stroke="#333" stroke-width="0.7"/>
<text x="559.2" y="471.00" font-size="11.3" fill="#111">high</text>
<text x="662.8" y="471.00" font-size="11.3" text-anchor="end" fill="#111">(2301 total)</text>
<rect x="545.6" y="479.95" width="9.2" height="9.2" fill="#d2d2d2" stroke="#333" stroke-width="0.7"/>
<text x="559.2" y="487.35" font-size="11.3" fill="#111">medium</text>
<text x="662.8" y="487.35" font-size="11.3" text-anchor="end" fill="#111">(233 total)</text>
<rect x="545.6" y="496.30" width="9.2" height="9.2" fill="#ffffff" stroke="#333" stroke-width="0.7"/>
<text x="559.2" y="503.70" font-size="11.3" fill="#111">low</text>
<text x="662.8" y="503.70" font-size="11.3" text-anchor="end" fill="#111">(437 total)</text>
</svg>
</body></html>
